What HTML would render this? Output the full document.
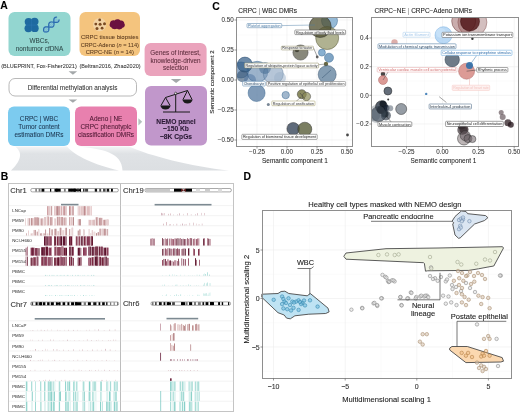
<!DOCTYPE html>
<html><head><meta charset="utf-8"><style>
html,body{margin:0;padding:0;background:#fff;width:520px;height:412px;overflow:hidden}
svg{display:block;font-family:'Liberation Sans', Arial, Helvetica, sans-serif}
</style></head><body>
<svg width="520" height="412" viewBox="0 0 520 412">
<text x="0.3" y="9.1" font-size="10.4" fill="#000" stroke="#000" stroke-width="0.1" text-anchor="start" font-weight="bold" >A</text>
<defs><linearGradient id="rg" x1="0" y1="146.5" x2="0" y2="170.6" gradientUnits="userSpaceOnUse"><stop offset="0" stop-color="#f3f4f5"/><stop offset="0.3" stop-color="#dfe2e5"/><stop offset="1" stop-color="#dcdfe2"/></linearGradient></defs>
<path d="M15,146.5 C21,151 24,158 11,170.6 L119,170.6 C95,165 75,156 67,146.5 Z" fill="url(#rg)"/>
<path d="M78,146.5 C102,149 122,152 122.5,170.6 L229,170.6 C190,166 150,156 129,146.5 Z" fill="url(#rg)"/>
<rect x="8.5" y="12" width="62" height="44" rx="6" fill="#93d6d0"/>
<rect x="79.5" y="12" width="60.5" height="44" rx="6" fill="#f4c47e"/>
<rect x="144.6" y="43" width="62" height="33" rx="6" fill="#eaa3bc"/>
<rect x="9" y="78.5" width="127.5" height="17.5" rx="6" fill="#fff" stroke="#a2a2a2" stroke-width="0.75"/>
<rect x="8" y="106.5" width="62" height="39.5" rx="6" fill="#7ccbef"/>
<rect x="75" y="106.5" width="62" height="39.5" rx="6" fill="#e880ae"/>
<rect x="145" y="86" width="62" height="59.5" rx="6" fill="#c197cb"/>
<path d="M68.6,71.2 L77.2,71.2 L72.9,74.8 Z" fill="#a4a8aa"/>
<path d="M68.6,99.4 L77.2,99.4 L72.9,102.8 Z" fill="#a4a8aa"/>
<path d="M170.8,79.1 L181.4,79.1 L176.1,83 Z" fill="#a4a8aa"/>
<path d="M138.4,118.2 L142.2,121.8 L138.4,125.4 Z" fill="#b4c2be"/>
<g fill="#1f6aa0"><circle cx="28.6" cy="21.8" r="3.9"/><circle cx="34.6" cy="21.6" r="3.9"/><circle cx="28.4" cy="28.3" r="3.9"/><circle cx="34.8" cy="28.2" r="3.9"/><circle cx="31.6" cy="25" r="3.6"/></g>
<g fill="none" stroke="#3d82c4" stroke-width="0.45" opacity="0.6"><path d="M31.6,19 L31.6,31 M25.5,25.1 L37.5,25.1"/></g>
<g stroke="#6fa6da" stroke-width="0.7"><line x1="46.32" y1="31.99" x2="43.65" y2="29.15"/><line x1="47.80" y1="31.58" x2="44.14" y2="27.70"/><line x1="48.63" y1="30.49" x2="45.29" y2="26.94"/><line x1="48.86" y1="28.76" x2="47.03" y2="26.81"/><line x1="48.73" y1="24.67" x2="51.10" y2="27.19"/><line x1="49.12" y1="23.11" x2="52.68" y2="26.89"/><line x1="50.14" y1="22.22" x2="53.63" y2="25.93"/><line x1="51.78" y1="21.98" x2="53.96" y2="24.30"/><line x1="55.86" y1="22.37" x2="53.83" y2="20.21"/><line x1="57.55" y1="22.18" x2="54.11" y2="18.53"/><line x1="58.62" y1="21.35" x2="55.01" y2="17.51"/></g>
<g fill="none" stroke="#2c6cb0" stroke-linecap="round"><polyline points="44.37,31.89 44.94,31.95 45.50,31.99 46.03,32.00 46.53,31.97 46.98,31.90 47.39,31.78 47.75,31.61 48.06,31.39 48.31,31.10 48.51,30.76 48.66,30.37 48.77,29.93 48.83,29.44 48.86,28.91 48.86,28.36 48.83,27.78 48.80,27.19 48.76,26.60 48.73,26.01 48.71,25.44 48.72,24.90 48.76,24.38 48.83,23.91 48.95,23.48 49.12,23.11 49.33,22.78 49.60,22.52 49.93,22.31 50.30,22.16 50.73,22.05 51.20,22.00 51.70,21.98 52.25,22.00 52.81,22.05 53.39,22.11 53.98,22.19 54.57,22.26 55.15,22.32 55.70,22.36 56.24,22.37 56.73,22.35 57.19,22.28 57.60,22.16 57.96,21.99 58.27,21.76 58.53,21.48 58.73,21.15 58.88,20.75 58.99,20.31 59.05,19.83" stroke-width="1.25"/><polyline points="43.63,31.11 43.61,30.53 43.60,29.97 43.62,29.44 43.68,28.95 43.78,28.50 43.92,28.10 44.11,27.75 44.36,27.45 44.66,27.22 45.01,27.04 45.41,26.91 45.86,26.83 46.34,26.80 46.87,26.81 47.42,26.84 48.00,26.90 48.59,26.97 49.17,27.04 49.76,27.11 50.33,27.16 50.87,27.18 51.39,27.18 51.86,27.13 52.30,27.04 52.68,26.89 53.02,26.70 53.30,26.44 53.53,26.13 53.70,25.76 53.83,25.35 53.91,24.88 53.96,24.38 53.97,23.84 53.96,23.27 53.93,22.69 53.89,22.09 53.86,21.50 53.83,20.92 53.82,20.36 53.84,19.83 53.90,19.33 53.99,18.88 54.13,18.48 54.33,18.13 54.57,17.84 54.87,17.60 55.21,17.41 55.61,17.29 56.06,17.21 56.55,17.17" stroke-width="1.25"/></g>
<circle cx="99.6" cy="24.7" r="6.6" fill="#f2d3a5"/>
<g fill="#7a4a22"><circle cx="99.7" cy="19.9" r="1.4"/><circle cx="95.8" cy="24.1" r="1.4"/><circle cx="100.1" cy="24.2" r="1.5"/><circle cx="104.5" cy="23.8" r="1.5"/><circle cx="97" cy="28.5" r="1.5"/><circle cx="102.1" cy="28.2" r="1.4"/></g>
<path d="M110,23.3 C110,21 112.5,19.8 114.5,20.4 C116,19 119,19 120.5,20.5 C122.5,20 124.5,21.6 124.3,23.5 C125.5,25 124.6,27.5 122.5,27.8 C121.5,29.6 118.5,29.8 117,28.8 C115,29.8 112,29.2 111.5,27.6 C109.5,27 109.2,24.6 110,23.3 Z" fill="#6a1040"/>
<text x="39.5" y="43" font-size="6.45" fill="#2f4b4b" stroke="#2f4b4b" stroke-width="0.06" text-anchor="middle" font-weight="normal" >WBCs,</text>
<text x="39.5" y="51.2" font-size="6.45" fill="#2f4b4b" stroke="#2f4b4b" stroke-width="0.06" text-anchor="middle" font-weight="normal" >nontumor cfDNA</text>
<text x="109.8" y="39.2" font-size="6.25" fill="#5b3a1e" stroke="#5b3a1e" stroke-width="0.06" text-anchor="middle" font-weight="normal" textLength="57.6" lengthAdjust="spacingAndGlyphs">CRPC tissue biopsies</text>
<text x="109.8" y="46.8" font-size="6.25" fill="#5b3a1e" stroke="#5b3a1e" stroke-width="0.06" text-anchor="middle" font-weight="normal" textLength="58.3" lengthAdjust="spacingAndGlyphs">CRPC-Adeno (<tspan font-style="italic">n</tspan> = 114)</text>
<text x="109.8" y="54.4" font-size="6.25" fill="#5b3a1e" stroke="#5b3a1e" stroke-width="0.06" text-anchor="middle" font-weight="normal" textLength="48.3" lengthAdjust="spacingAndGlyphs">CRPC-NE (<tspan font-style="italic">n</tspan> = 14)</text>
<text x="39" y="67.8" font-size="5.5" fill="#333" stroke="#333" stroke-width="0.06" text-anchor="middle" font-weight="normal" >(BLUEPRINT, Fox-Fisher2021)</text>
<text x="110" y="67.8" font-size="5.5" fill="#333" stroke="#333" stroke-width="0.06" text-anchor="middle" font-weight="normal" >(Beltran2016, Zhao2020)</text>
<text x="175.6" y="55" font-size="6.4" fill="#5a2a3a" stroke="#5a2a3a" stroke-width="0.06" text-anchor="middle" font-weight="normal" >Genes of interest,</text>
<text x="175.6" y="62.6" font-size="6.4" fill="#5a2a3a" stroke="#5a2a3a" stroke-width="0.06" text-anchor="middle" font-weight="normal" >knowledge-driven</text>
<text x="175.6" y="70.2" font-size="6.4" fill="#5a2a3a" stroke="#5a2a3a" stroke-width="0.06" text-anchor="middle" font-weight="normal" >selection</text>
<text x="72.5" y="89.8" font-size="6.4" fill="#333" stroke="#333" stroke-width="0.06" text-anchor="middle" font-weight="normal" >Differential methylation analysis</text>
<text x="39" y="121.4" font-size="6.45" fill="#1c3550" stroke="#1c3550" stroke-width="0.06" text-anchor="middle" font-weight="normal" >CRPC | WBC</text>
<text x="39" y="129.1" font-size="6.45" fill="#1c3550" stroke="#1c3550" stroke-width="0.06" text-anchor="middle" font-weight="normal" >Tumor content</text>
<text x="39" y="136.8" font-size="6.45" fill="#1c3550" stroke="#1c3550" stroke-width="0.06" text-anchor="middle" font-weight="normal" >estimation DMRs</text>
<text x="106" y="121.4" font-size="6.45" fill="#4a1530" stroke="#4a1530" stroke-width="0.06" text-anchor="middle" font-weight="normal" >Adeno | NE</text>
<text x="106" y="129.1" font-size="6.45" fill="#4a1530" stroke="#4a1530" stroke-width="0.06" text-anchor="middle" font-weight="normal" >CRPC phenotypic</text>
<text x="106" y="136.8" font-size="6.45" fill="#4a1530" stroke="#4a1530" stroke-width="0.06" text-anchor="middle" font-weight="normal" >classification DMRs</text>
<text x="176" y="123.8" font-size="6.7" fill="#2a1a35" stroke="#2a1a35" stroke-width="0.1" text-anchor="middle" font-weight="bold" >NEMO panel</text>
<text x="176" y="131.4" font-size="6.7" fill="#2a1a35" stroke="#2a1a35" stroke-width="0.1" text-anchor="middle" font-weight="bold" >~150 Kb</text>
<text x="176" y="139" font-size="6.7" fill="#2a1a35" stroke="#2a1a35" stroke-width="0.1" text-anchor="middle" font-weight="bold" >~8K CpGs</text>
<g stroke="#1a1a1a" stroke-width="1" fill="none"><path d="M163,112 L190,112"/><path d="M175.7,93 L175.7,112"/><path d="M165.5,97.5 L187.5,90.5"/><path d="M165.5,97.5 L161,105.5 M165.5,97.5 L170,105.5"/><path d="M187.5,90.5 L183,99.5 M187.5,90.5 L192,99.5"/></g>
<path d="M160.5,105.5 L170.5,105.5 A5,4 0 0 1 160.5,105.5 Z" fill="#1a1a1a"/>
<path d="M182.5,99.5 L192.5,99.5 A5,4 0 0 1 182.5,99.5 Z" fill="#1a1a1a"/>
<circle cx="175.7" cy="93.3" r="1.1" fill="#fff" stroke="#1a1a1a" stroke-width="0.6"/>
<rect x="8.5" y="183.5" width="225" height="228" fill="none" stroke="#c4c4c4" stroke-width="1"/>
<line x1="120.5" y1="184" x2="120.5" y2="412" stroke="#bdbdbd" stroke-width="1"/>
<line x1="9" y1="205.60" x2="120.4" y2="205.60" stroke="#e6e6e6" stroke-width="0.5"/>
<line x1="121.6" y1="205.60" x2="233.2" y2="205.60" stroke="#e6e6e6" stroke-width="0.5"/>
<line x1="9" y1="215.66" x2="120.4" y2="215.66" stroke="#e6e6e6" stroke-width="0.5"/>
<line x1="121.6" y1="215.66" x2="233.2" y2="215.66" stroke="#e6e6e6" stroke-width="0.5"/>
<line x1="9" y1="225.72" x2="120.4" y2="225.72" stroke="#e6e6e6" stroke-width="0.5"/>
<line x1="121.6" y1="225.72" x2="233.2" y2="225.72" stroke="#e6e6e6" stroke-width="0.5"/>
<line x1="9" y1="235.78" x2="120.4" y2="235.78" stroke="#e6e6e6" stroke-width="0.5"/>
<line x1="121.6" y1="235.78" x2="233.2" y2="235.78" stroke="#e6e6e6" stroke-width="0.5"/>
<line x1="9" y1="245.84" x2="120.4" y2="245.84" stroke="#e6e6e6" stroke-width="0.5"/>
<line x1="121.6" y1="245.84" x2="233.2" y2="245.84" stroke="#e6e6e6" stroke-width="0.5"/>
<line x1="9" y1="255.90" x2="120.4" y2="255.90" stroke="#e6e6e6" stroke-width="0.5"/>
<line x1="121.6" y1="255.90" x2="233.2" y2="255.90" stroke="#e6e6e6" stroke-width="0.5"/>
<line x1="9" y1="265.96" x2="120.4" y2="265.96" stroke="#e6e6e6" stroke-width="0.5"/>
<line x1="121.6" y1="265.96" x2="233.2" y2="265.96" stroke="#e6e6e6" stroke-width="0.5"/>
<line x1="9" y1="276.02" x2="120.4" y2="276.02" stroke="#e6e6e6" stroke-width="0.5"/>
<line x1="121.6" y1="276.02" x2="233.2" y2="276.02" stroke="#e6e6e6" stroke-width="0.5"/>
<line x1="9" y1="286.08" x2="120.4" y2="286.08" stroke="#e6e6e6" stroke-width="0.5"/>
<line x1="121.6" y1="286.08" x2="233.2" y2="286.08" stroke="#e6e6e6" stroke-width="0.5"/>
<line x1="9" y1="320.80" x2="120.4" y2="320.80" stroke="#e6e6e6" stroke-width="0.5"/>
<line x1="121.6" y1="320.80" x2="233.2" y2="320.80" stroke="#e6e6e6" stroke-width="0.5"/>
<line x1="9" y1="330.86" x2="120.4" y2="330.86" stroke="#e6e6e6" stroke-width="0.5"/>
<line x1="121.6" y1="330.86" x2="233.2" y2="330.86" stroke="#e6e6e6" stroke-width="0.5"/>
<line x1="9" y1="340.92" x2="120.4" y2="340.92" stroke="#e6e6e6" stroke-width="0.5"/>
<line x1="121.6" y1="340.92" x2="233.2" y2="340.92" stroke="#e6e6e6" stroke-width="0.5"/>
<line x1="9" y1="350.98" x2="120.4" y2="350.98" stroke="#e6e6e6" stroke-width="0.5"/>
<line x1="121.6" y1="350.98" x2="233.2" y2="350.98" stroke="#e6e6e6" stroke-width="0.5"/>
<line x1="9" y1="361.04" x2="120.4" y2="361.04" stroke="#e6e6e6" stroke-width="0.5"/>
<line x1="121.6" y1="361.04" x2="233.2" y2="361.04" stroke="#e6e6e6" stroke-width="0.5"/>
<line x1="9" y1="371.10" x2="120.4" y2="371.10" stroke="#e6e6e6" stroke-width="0.5"/>
<line x1="121.6" y1="371.10" x2="233.2" y2="371.10" stroke="#e6e6e6" stroke-width="0.5"/>
<line x1="9" y1="381.16" x2="120.4" y2="381.16" stroke="#e6e6e6" stroke-width="0.5"/>
<line x1="121.6" y1="381.16" x2="233.2" y2="381.16" stroke="#e6e6e6" stroke-width="0.5"/>
<line x1="9" y1="391.22" x2="120.4" y2="391.22" stroke="#e6e6e6" stroke-width="0.5"/>
<line x1="121.6" y1="391.22" x2="233.2" y2="391.22" stroke="#e6e6e6" stroke-width="0.5"/>
<line x1="9" y1="401.28" x2="120.4" y2="401.28" stroke="#e6e6e6" stroke-width="0.5"/>
<line x1="121.6" y1="401.28" x2="233.2" y2="401.28" stroke="#e6e6e6" stroke-width="0.5"/>
<text x="10.2" y="193.2" font-size="7.6" fill="#333" stroke="#333" stroke-width="0.1" text-anchor="start" font-weight="normal" >Chr1</text>
<text x="123" y="193.2" font-size="7.6" fill="#333" stroke="#333" stroke-width="0.1" text-anchor="start" font-weight="normal" >Chr19</text>
<text x="10.6" y="306.6" font-size="7.6" fill="#333" stroke="#333" stroke-width="0.1" text-anchor="start" font-weight="normal" >Chr7</text>
<text x="122.9" y="306.4" font-size="7.6" fill="#333" stroke="#333" stroke-width="0.1" text-anchor="start" font-weight="normal" >Chr6</text>
<rect x="30.8" y="188.5" width="87.5" height="3.4" rx="1.4" fill="#fff" stroke="#555" stroke-width="0.5"/>
<rect x="35.32" y="188.75" width="1.5600000000000023" height="2.9" fill="#777"/>
<rect x="38.63" y="188.75" width="1.8399999999999963" height="2.9" fill="#777"/>
<rect x="41.51" y="188.75" width="2.8400000000000034" height="2.9" fill="#000"/>
<rect x="50.0" y="188.75" width="1.2199999999999989" height="2.9" fill="#000"/>
<rect x="56.07" y="188.75" width="1.4699999999999989" height="2.9" fill="#000"/>
<rect x="63.95" y="188.75" width="1.759999999999991" height="2.9" fill="#777"/>
<rect x="68.23" y="188.75" width="3.039999999999992" height="2.9" fill="#000"/>
<rect x="73.75" y="188.75" width="1.2199999999999989" height="2.9" fill="#000"/>
<rect x="77.34" y="188.75" width="1.269999999999996" height="2.9" fill="#000"/>
<rect x="85.08" y="188.75" width="3.0" height="2.9" fill="#444"/>
<rect x="94.77" y="188.75" width="2.299999999999997" height="2.9" fill="#111"/>
<rect x="99.26" y="188.75" width="1.8900000000000006" height="2.9" fill="#444"/>
<rect x="103.03" y="188.75" width="2.539999999999992" height="2.9" fill="#444"/>
<rect x="106.71" y="188.75" width="2.460000000000008" height="2.9" fill="#111"/>
<rect x="111.01" y="188.75" width="1.8599999999999994" height="2.9" fill="#000"/>
<rect x="54.5" y="188.75" width="6.200000000000003" height="2.9" fill="#000"/>
<rect x="71" y="188.75" width="4" height="2.9" fill="#000"/>
<rect x="83" y="188.75" width="1.5" height="2.9" fill="#333"/>
<path d="M75,188.5 L78.0,189.79999999999998 L81,188.5 L81,191.89999999999998 L78.0,190.6 L75,191.89999999999998 Z" fill="#000"/>
<rect x="145" y="188.5" width="86.30000000000001" height="3.4" rx="1.4" fill="#fff" stroke="#555" stroke-width="0.5"/>
<rect x="146" y="188.75" width="24" height="2.9" fill="#c8c8c8"/>
<rect x="174" y="188.75" width="7" height="2.9" fill="#000"/>
<rect x="186" y="188.75" width="6" height="2.9" fill="#000"/>
<rect x="196" y="188.75" width="4" height="2.9" fill="#ddd"/>
<rect x="205" y="188.75" width="5" height="2.9" fill="#ccc"/>
<rect x="218" y="188.75" width="4" height="2.9" fill="#ddd"/>
<path d="M181,188.5 L183.5,189.79999999999998 L186,188.5 L186,191.89999999999998 L183.5,190.6 L181,191.89999999999998 Z" fill="#5a1a1a"/>
<rect x="30.6" y="302.0" width="88.0" height="3.4" rx="1.4" fill="#fff" stroke="#555" stroke-width="0.5"/>
<rect x="31.6" y="302.25" width="1.519999999999996" height="2.9" fill="#444"/>
<rect x="35.59" y="302.25" width="2.039999999999999" height="2.9" fill="#000"/>
<rect x="38.65" y="302.25" width="2.8500000000000014" height="2.9" fill="#111"/>
<rect x="42.8" y="302.25" width="2.5800000000000054" height="2.9" fill="#000"/>
<rect x="47.14" y="302.25" width="2.4099999999999966" height="2.9" fill="#000"/>
<rect x="50.79" y="302.25" width="3.039999999999999" height="2.9" fill="#000"/>
<rect x="55.9" y="302.25" width="1.1400000000000006" height="2.9" fill="#000"/>
<rect x="58.11" y="302.25" width="2.719999999999999" height="2.9" fill="#444"/>
<rect x="62.58" y="302.25" width="2.5900000000000034" height="2.9" fill="#000"/>
<rect x="67.43" y="302.25" width="1.9399999999999977" height="2.9" fill="#000"/>
<rect x="71.08" y="302.25" width="3.0600000000000023" height="2.9" fill="#000"/>
<rect x="75.19" y="302.25" width="2.0900000000000034" height="2.9" fill="#000"/>
<rect x="78.98" y="302.25" width="2.3799999999999955" height="2.9" fill="#000"/>
<rect x="83.69" y="302.25" width="2.260000000000005" height="2.9" fill="#777"/>
<rect x="87.89" y="302.25" width="2.989999999999995" height="2.9" fill="#000"/>
<rect x="93.25" y="302.25" width="3.180000000000007" height="2.9" fill="#111"/>
<rect x="98.55" y="302.25" width="1.710000000000008" height="2.9" fill="#000"/>
<rect x="102.17" y="302.25" width="2.5799999999999983" height="2.9" fill="#000"/>
<rect x="106.17" y="302.25" width="1.2800000000000011" height="2.9" fill="#000"/>
<rect x="110.03" y="302.25" width="1.1899999999999977" height="2.9" fill="#777"/>
<rect x="113.66" y="302.25" width="1.0400000000000063" height="2.9" fill="#777"/>
<rect x="117.1" y="302.25" width="0.5" height="2.9" fill="#000"/>
<rect x="75" y="302.25" width="4" height="2.9" fill="#000"/>
<rect x="40" y="302.25" width="2" height="2.9" fill="#000"/>
<path d="M57,302.0 L58.5,303.3 L60,302.0 L60,305.4 L58.5,304.09999999999997 L57,305.4 Z" fill="#000"/>
<rect x="151" y="301.90000000000003" width="79.5" height="3.4" rx="1.4" fill="#fff" stroke="#555" stroke-width="0.5"/>
<rect x="152" y="302.15000000000003" width="1.5200000000000102" height="2.9" fill="#777"/>
<rect x="155.29" y="302.15000000000003" width="1.1899999999999977" height="2.9" fill="#000"/>
<rect x="158.95" y="302.15000000000003" width="2.7600000000000193" height="2.9" fill="#111"/>
<rect x="163.55" y="302.15000000000003" width="1.789999999999992" height="2.9" fill="#000"/>
<rect x="166.76" y="302.15000000000003" width="3.0700000000000216" height="2.9" fill="#000"/>
<rect x="172.12" y="302.15000000000003" width="2.759999999999991" height="2.9" fill="#444"/>
<rect x="181.61" y="302.15000000000003" width="1.8199999999999932" height="2.9" fill="#444"/>
<rect x="185.51" y="302.15000000000003" width="2.1100000000000136" height="2.9" fill="#777"/>
<rect x="189.07" y="302.15000000000003" width="3.0800000000000125" height="2.9" fill="#000"/>
<rect x="194.49" y="302.15000000000003" width="1.0199999999999818" height="2.9" fill="#000"/>
<rect x="197.92" y="302.15000000000003" width="2.8600000000000136" height="2.9" fill="#777"/>
<rect x="202.46" y="302.15000000000003" width="1.6399999999999864" height="2.9" fill="#111"/>
<rect x="205.58" y="302.15000000000003" width="2.789999999999992" height="2.9" fill="#000"/>
<rect x="210.11" y="302.15000000000003" width="3.1999999999999886" height="2.9" fill="#000"/>
<rect x="218.13" y="302.15000000000003" width="1.9099999999999966" height="2.9" fill="#000"/>
<rect x="221.74" y="302.15000000000003" width="1.4099999999999966" height="2.9" fill="#000"/>
<rect x="228.05" y="302.15000000000003" width="1.1299999999999955" height="2.9" fill="#000"/>
<rect x="181" y="302.15000000000003" width="4" height="2.9" fill="#000"/>
<rect x="210" y="302.15000000000003" width="4" height="2.9" fill="#000"/>
<path d="M168,301.90000000000003 L169.5,303.20000000000005 L171,301.90000000000003 L171,305.3 L169.5,304.0 L168,305.3 Z" fill="#000"/>
<rect x="61" y="203.79999999999998" width="17.5" height="1.6" fill="#7d8a92"/>
<rect x="154.6" y="203.89999999999998" width="56.900000000000006" height="1.6" fill="#7d8a92"/>
<rect x="34.7" y="318.0" width="70.3" height="1.6" fill="#7d8a92"/>
<rect x="166.5" y="317.8" width="31.69999999999999" height="1.6" fill="#7d8a92"/>
<text x="12.2" y="212.2" font-size="4.4" fill="#262626" stroke="#262626" stroke-width="0" text-anchor="start" font-weight="normal" >LNCap</text>
<text x="12.2" y="222.26" font-size="4.4" fill="#262626" stroke="#262626" stroke-width="0" text-anchor="start" font-weight="normal" >PM59</text>
<text x="12.2" y="232.32" font-size="4.4" fill="#262626" stroke="#262626" stroke-width="0" text-anchor="start" font-weight="normal" >PM90</text>
<text x="12.2" y="242.38" font-size="4.4" fill="#262626" stroke="#262626" stroke-width="0" text-anchor="start" font-weight="normal" >NCI-H660</text>
<text x="12.2" y="252.44" font-size="4.4" fill="#262626" stroke="#262626" stroke-width="0" text-anchor="start" font-weight="normal" >PM155</text>
<text x="12.2" y="262.5" font-size="4.4" fill="#262626" stroke="#262626" stroke-width="0" text-anchor="start" font-weight="normal" >PM154</text>
<text x="12.2" y="272.56" font-size="4.4" fill="#262626" stroke="#262626" stroke-width="0" text-anchor="start" font-weight="normal" >PBMC</text>
<text x="12.2" y="282.62" font-size="4.4" fill="#262626" stroke="#262626" stroke-width="0" text-anchor="start" font-weight="normal" >PBMC</text>
<text x="12.2" y="292.68" font-size="4.4" fill="#262626" stroke="#262626" stroke-width="0" text-anchor="start" font-weight="normal" >PBMC</text>
<text x="12.2" y="327.40000000000003" font-size="4.4" fill="#262626" stroke="#262626" stroke-width="0" text-anchor="start" font-weight="normal" >LNCaP</text>
<text x="12.2" y="337.46000000000004" font-size="4.4" fill="#262626" stroke="#262626" stroke-width="0" text-anchor="start" font-weight="normal" >PM59</text>
<text x="12.2" y="347.52000000000004" font-size="4.4" fill="#262626" stroke="#262626" stroke-width="0" text-anchor="start" font-weight="normal" >PM90</text>
<text x="12.2" y="357.58000000000004" font-size="4.4" fill="#262626" stroke="#262626" stroke-width="0" text-anchor="start" font-weight="normal" >NCI-H660</text>
<text x="12.2" y="367.64000000000004" font-size="4.4" fill="#262626" stroke="#262626" stroke-width="0" text-anchor="start" font-weight="normal" >PM155</text>
<text x="12.2" y="377.70000000000005" font-size="4.4" fill="#262626" stroke="#262626" stroke-width="0" text-anchor="start" font-weight="normal" >PM154</text>
<text x="12.2" y="387.76000000000005" font-size="4.4" fill="#262626" stroke="#262626" stroke-width="0" text-anchor="start" font-weight="normal" >PBMC</text>
<text x="12.2" y="397.82000000000005" font-size="4.4" fill="#262626" stroke="#262626" stroke-width="0" text-anchor="start" font-weight="normal" >PBMC</text>
<text x="12.2" y="407.88000000000005" font-size="4.4" fill="#262626" stroke="#262626" stroke-width="0" text-anchor="start" font-weight="normal" >PBMC</text>
<rect x="47.00" y="206.16" width="2.63" height="9.20" fill="#cfa3a6"/>
<rect x="48.13" y="206.16" width="0.40" height="9.20" fill="#f3e3e3"/>
<rect x="48.79" y="206.16" width="0.37" height="9.20" fill="#f3e3e3"/>
<rect x="50.02" y="206.16" width="2.26" height="9.20" fill="#e0bfc0"/>
<rect x="50.10" y="206.16" width="0.50" height="9.20" fill="#ffffff"/>
<rect x="51.24" y="206.16" width="0.40" height="9.20" fill="#f3e3e3"/>
<rect x="51.18" y="206.16" width="0.46" height="9.20" fill="#a87072"/>
<rect x="54.20" y="206.16" width="1.98" height="9.20" fill="#d8b0b2"/>
<rect x="54.71" y="206.16" width="0.40" height="9.20" fill="#f3e3e3"/>
<rect x="55.02" y="206.16" width="0.41" height="9.20" fill="#ffffff"/>
<rect x="56.53" y="206.16" width="1.71" height="9.20" fill="#cfa3a6"/>
<rect x="57.83" y="206.16" width="0.46" height="9.20" fill="#9a6064"/>
<rect x="56.94" y="206.16" width="0.31" height="9.20" fill="#9a6064"/>
<rect x="56.57" y="206.16" width="0.39" height="9.20" fill="#a87072"/>
<rect x="58.77" y="206.16" width="3.62" height="9.20" fill="#d8b0b2"/>
<rect x="58.77" y="206.16" width="0.30" height="9.20" fill="#a87072"/>
<rect x="60.28" y="206.16" width="0.50" height="9.20" fill="#ffffff"/>
<rect x="60.12" y="206.16" width="0.39" height="9.20" fill="#f3e3e3"/>
<rect x="63.09" y="206.16" width="2.17" height="9.20" fill="#cfa3a6"/>
<rect x="64.80" y="206.16" width="0.44" height="9.20" fill="#a87072"/>
<rect x="65.67" y="206.16" width="1.33" height="9.20" fill="#cfa3a6"/>
<rect x="65.84" y="206.16" width="0.39" height="9.20" fill="#ffffff"/>
<rect x="66.14" y="206.16" width="0.50" height="9.20" fill="#f3e3e3"/>
<rect x="69.00" y="206.16" width="2.46" height="9.20" fill="#d8b0b2"/>
<rect x="69.56" y="206.16" width="0.49" height="9.20" fill="#9a6064"/>
<rect x="72.26" y="206.16" width="1.54" height="9.20" fill="#e0bfc0"/>
<rect x="72.92" y="206.16" width="0.26" height="9.20" fill="#f3e3e3"/>
<rect x="72.50" y="206.16" width="0.31" height="9.20" fill="#9a6064"/>
<rect x="73.21" y="206.16" width="0.35" height="9.20" fill="#a87072"/>
<rect x="77.70" y="206.16" width="2.96" height="9.20" fill="#e0bfc0"/>
<rect x="78.65" y="206.16" width="0.36" height="9.20" fill="#ffffff"/>
<rect x="79.83" y="206.16" width="0.28" height="9.20" fill="#ffffff"/>
<rect x="81.09" y="206.16" width="1.89" height="9.20" fill="#e0bfc0"/>
<rect x="82.17" y="206.16" width="0.29" height="9.20" fill="#f3e3e3"/>
<rect x="83.63" y="206.16" width="2.47" height="9.20" fill="#d8b0b2"/>
<rect x="83.73" y="206.16" width="0.28" height="9.20" fill="#9a6064"/>
<rect x="84.13" y="206.16" width="0.43" height="9.20" fill="#9a6064"/>
<rect x="86.64" y="206.16" width="3.76" height="9.20" fill="#e0bfc0"/>
<rect x="89.77" y="206.16" width="0.49" height="9.20" fill="#f3e3e3"/>
<rect x="90.86" y="206.16" width="1.14" height="9.20" fill="#e0bfc0"/>
<rect x="91.07" y="206.16" width="0.48" height="9.20" fill="#f3e3e3"/>
<rect x="25.00" y="218.39" width="0.60" height="7.03" fill="#dab6b7"/>
<rect x="25.01" y="218.39" width="0.32" height="7.03" fill="#f3e3e3"/>
<rect x="27.70" y="218.24" width="1.85" height="7.18" fill="#d0a8aa"/>
<rect x="28.76" y="218.24" width="0.38" height="7.18" fill="#f3e3e3"/>
<rect x="28.55" y="218.24" width="0.48" height="7.18" fill="#ffffff"/>
<rect x="29.02" y="218.24" width="0.43" height="7.18" fill="#a87072"/>
<rect x="30.60" y="218.13" width="3.09" height="7.29" fill="#e2c4c5"/>
<rect x="31.46" y="218.13" width="0.50" height="7.29" fill="#a87072"/>
<rect x="31.82" y="218.13" width="0.34" height="7.29" fill="#a87072"/>
<rect x="34.45" y="217.31" width="3.34" height="8.11" fill="#d0a8aa"/>
<rect x="34.70" y="217.31" width="0.37" height="8.11" fill="#a87072"/>
<rect x="37.01" y="217.31" width="0.35" height="8.11" fill="#a87072"/>
<rect x="38.53" y="217.60" width="0.67" height="7.82" fill="#d0a8aa"/>
<rect x="38.69" y="217.60" width="0.40" height="7.82" fill="#a87072"/>
<rect x="38.55" y="217.60" width="0.28" height="7.82" fill="#9a6064"/>
<rect x="40.20" y="218.47" width="3.32" height="6.95" fill="#e2c4c5"/>
<rect x="41.90" y="218.47" width="0.36" height="6.95" fill="#a87072"/>
<rect x="41.71" y="218.47" width="0.38" height="6.95" fill="#9a6064"/>
<rect x="41.96" y="218.47" width="0.37" height="6.95" fill="#f3e3e3"/>
<rect x="44.30" y="217.03" width="1.78" height="8.39" fill="#e2c4c5"/>
<rect x="44.65" y="217.03" width="0.25" height="8.39" fill="#9a6064"/>
<rect x="44.50" y="217.03" width="0.40" height="8.39" fill="#f3e3e3"/>
<rect x="46.77" y="216.48" width="2.36" height="8.94" fill="#d0a8aa"/>
<rect x="47.41" y="216.48" width="0.42" height="8.94" fill="#f3e3e3"/>
<rect x="49.76" y="217.12" width="2.94" height="8.30" fill="#dab6b7"/>
<rect x="50.74" y="217.12" width="0.40" height="8.30" fill="#9a6064"/>
<rect x="54.20" y="218.61" width="1.84" height="6.81" fill="#dab6b7"/>
<rect x="54.29" y="218.61" width="0.50" height="6.81" fill="#f3e3e3"/>
<rect x="54.36" y="218.61" width="0.37" height="6.81" fill="#f3e3e3"/>
<rect x="55.39" y="218.61" width="0.35" height="6.81" fill="#ffffff"/>
<rect x="56.69" y="216.80" width="3.29" height="8.62" fill="#e2c4c5"/>
<rect x="57.61" y="216.80" width="0.46" height="8.62" fill="#9a6064"/>
<rect x="59.21" y="216.80" width="0.26" height="8.62" fill="#9a6064"/>
<rect x="60.59" y="216.99" width="2.27" height="8.43" fill="#dab6b7"/>
<rect x="60.84" y="216.99" width="0.36" height="8.43" fill="#a87072"/>
<rect x="62.03" y="216.99" width="0.32" height="8.43" fill="#f3e3e3"/>
<rect x="62.08" y="216.99" width="0.50" height="8.43" fill="#a87072"/>
<rect x="63.41" y="217.49" width="3.07" height="7.93" fill="#d0a8aa"/>
<rect x="65.24" y="217.49" width="0.30" height="7.93" fill="#ffffff"/>
<rect x="69.00" y="217.12" width="3.29" height="8.30" fill="#e2c4c5"/>
<rect x="69.10" y="217.12" width="0.31" height="8.30" fill="#9a6064"/>
<rect x="70.56" y="217.12" width="0.49" height="8.30" fill="#f3e3e3"/>
<rect x="70.14" y="217.12" width="0.45" height="8.30" fill="#f3e3e3"/>
<rect x="72.67" y="217.24" width="1.13" height="8.18" fill="#dab6b7"/>
<rect x="73.00" y="217.24" width="0.41" height="8.18" fill="#a87072"/>
<rect x="72.95" y="217.24" width="0.39" height="8.18" fill="#9a6064"/>
<rect x="77.70" y="219.15" width="3.13" height="6.27" fill="#e2c4c5"/>
<rect x="80.22" y="219.15" width="0.28" height="6.27" fill="#f3e3e3"/>
<rect x="80.16" y="219.15" width="0.50" height="6.27" fill="#9a6064"/>
<rect x="79.16" y="219.15" width="0.45" height="6.27" fill="#9a6064"/>
<rect x="88.30" y="219.84" width="3.30" height="5.58" fill="#e2c4c5"/>
<rect x="88.41" y="219.84" width="0.34" height="5.58" fill="#ffffff"/>
<rect x="92.29" y="219.80" width="2.72" height="5.62" fill="#dab6b7"/>
<rect x="94.15" y="219.80" width="0.29" height="5.62" fill="#9a6064"/>
<rect x="93.88" y="219.80" width="0.48" height="5.62" fill="#ffffff"/>
<rect x="95.43" y="217.24" width="2.79" height="8.18" fill="#e2c4c5"/>
<rect x="96.48" y="217.24" width="0.47" height="8.18" fill="#a87072"/>
<rect x="97.24" y="217.24" width="0.36" height="8.18" fill="#9a6064"/>
<rect x="97.41" y="217.24" width="0.39" height="8.18" fill="#f3e3e3"/>
<rect x="98.80" y="217.84" width="3.61" height="7.58" fill="#d0a8aa"/>
<rect x="100.03" y="217.84" width="0.46" height="7.58" fill="#f3e3e3"/>
<rect x="99.78" y="217.84" width="0.29" height="7.58" fill="#9a6064"/>
<rect x="100.64" y="217.84" width="0.30" height="7.58" fill="#a87072"/>
<rect x="102.99" y="219.80" width="3.01" height="5.62" fill="#dab6b7"/>
<rect x="105.39" y="219.80" width="0.39" height="5.62" fill="#a87072"/>
<rect x="104.27" y="219.80" width="0.42" height="5.62" fill="#a87072"/>
<rect x="105.42" y="219.80" width="0.36" height="5.62" fill="#ffffff"/>
<rect x="106.47" y="219.43" width="2.03" height="5.99" fill="#d0a8aa"/>
<rect x="107.33" y="219.43" width="0.28" height="5.99" fill="#ffffff"/>
<rect x="107.48" y="219.43" width="0.48" height="5.99" fill="#f3e3e3"/>
<rect x="26.00" y="233.32" width="0.50" height="2.16" fill="#ddbfc0"/>
<rect x="26.00" y="233.32" width="0.32" height="2.16" fill="#9a6064"/>
<rect x="28.00" y="230.59" width="1.00" height="4.89" fill="#e4c9ca"/>
<rect x="28.51" y="230.59" width="0.41" height="4.89" fill="#f3e3e3"/>
<rect x="30.60" y="233.39" width="2.29" height="2.09" fill="#e4c9ca"/>
<rect x="32.16" y="233.39" width="0.40" height="2.09" fill="#f3e3e3"/>
<rect x="32.24" y="233.39" width="0.38" height="2.09" fill="#f3e3e3"/>
<rect x="33.48" y="229.94" width="2.25" height="5.54" fill="#ddbfc0"/>
<rect x="35.17" y="229.94" width="0.41" height="5.54" fill="#9a6064"/>
<rect x="36.49" y="231.68" width="1.34" height="3.80" fill="#ddbfc0"/>
<rect x="37.21" y="231.68" width="0.30" height="3.80" fill="#a87072"/>
<rect x="38.23" y="229.26" width="0.97" height="6.22" fill="#d3aeb0"/>
<rect x="38.29" y="229.26" width="0.46" height="6.22" fill="#ffffff"/>
<rect x="38.54" y="229.26" width="0.43" height="6.22" fill="#f3e3e3"/>
<rect x="40.20" y="233.42" width="1.96" height="2.06" fill="#ddbfc0"/>
<rect x="41.27" y="233.42" width="0.48" height="2.06" fill="#9a6064"/>
<rect x="40.38" y="233.42" width="0.38" height="2.06" fill="#9a6064"/>
<rect x="40.99" y="233.42" width="0.42" height="2.06" fill="#f3e3e3"/>
<rect x="42.88" y="233.38" width="1.62" height="2.10" fill="#e4c9ca"/>
<rect x="43.50" y="233.38" width="0.39" height="2.10" fill="#f3e3e3"/>
<rect x="43.11" y="233.38" width="0.28" height="2.10" fill="#f3e3e3"/>
<rect x="43.90" y="233.38" width="0.50" height="2.10" fill="#a87072"/>
<rect x="45.11" y="229.53" width="1.03" height="5.95" fill="#ddbfc0"/>
<rect x="45.31" y="229.53" width="0.37" height="5.95" fill="#9a6064"/>
<rect x="46.68" y="233.45" width="1.82" height="2.03" fill="#e4c9ca"/>
<rect x="47.88" y="233.45" width="0.30" height="2.03" fill="#ffffff"/>
<rect x="49.01" y="228.12" width="1.43" height="7.36" fill="#e4c9ca"/>
<rect x="49.11" y="228.12" width="0.45" height="7.36" fill="#9a6064"/>
<rect x="51.19" y="229.39" width="1.51" height="6.09" fill="#e4c9ca"/>
<rect x="51.82" y="229.39" width="0.30" height="6.09" fill="#9a6064"/>
<rect x="52.08" y="229.39" width="0.31" height="6.09" fill="#a87072"/>
<rect x="54.20" y="228.75" width="2.12" height="6.73" fill="#d3aeb0"/>
<rect x="55.74" y="228.75" width="0.47" height="6.73" fill="#9a6064"/>
<rect x="57.02" y="231.15" width="2.10" height="4.33" fill="#e4c9ca"/>
<rect x="57.14" y="231.15" width="0.34" height="4.33" fill="#ffffff"/>
<rect x="59.51" y="227.72" width="2.31" height="7.76" fill="#e4c9ca"/>
<rect x="59.96" y="227.72" width="0.49" height="7.76" fill="#9a6064"/>
<rect x="62.33" y="230.18" width="1.92" height="5.30" fill="#e4c9ca"/>
<rect x="62.92" y="230.18" width="0.50" height="5.30" fill="#f3e3e3"/>
<rect x="64.91" y="227.78" width="2.09" height="7.70" fill="#ddbfc0"/>
<rect x="65.95" y="227.78" width="0.43" height="7.70" fill="#9a6064"/>
<rect x="69.00" y="229.06" width="1.66" height="6.42" fill="#e4c9ca"/>
<rect x="69.01" y="229.06" width="0.31" height="6.42" fill="#9a6064"/>
<rect x="70.14" y="229.06" width="0.39" height="6.42" fill="#ffffff"/>
<rect x="71.44" y="227.69" width="1.77" height="7.79" fill="#e4c9ca"/>
<rect x="72.55" y="227.69" width="0.27" height="7.79" fill="#a87072"/>
<rect x="71.97" y="227.69" width="0.48" height="7.79" fill="#ffffff"/>
<rect x="77.70" y="230.62" width="1.09" height="4.86" fill="#e4c9ca"/>
<rect x="77.74" y="230.62" width="0.49" height="4.86" fill="#ffffff"/>
<rect x="77.90" y="230.62" width="0.35" height="4.86" fill="#9a6064"/>
<rect x="77.95" y="230.62" width="0.32" height="4.86" fill="#9a6064"/>
<rect x="79.39" y="229.32" width="1.28" height="6.16" fill="#d3aeb0"/>
<rect x="79.40" y="229.32" width="0.31" height="6.16" fill="#a87072"/>
<rect x="83.00" y="229.51" width="1.49" height="5.97" fill="#ddbfc0"/>
<rect x="83.82" y="229.51" width="0.26" height="5.97" fill="#9a6064"/>
<rect x="83.08" y="229.51" width="0.48" height="5.97" fill="#ffffff"/>
<rect x="88.30" y="229.09" width="1.23" height="6.39" fill="#ddbfc0"/>
<rect x="88.38" y="229.09" width="0.45" height="6.39" fill="#ffffff"/>
<rect x="88.42" y="229.09" width="0.49" height="6.39" fill="#f3e3e3"/>
<rect x="88.80" y="229.09" width="0.28" height="6.39" fill="#ffffff"/>
<rect x="90.08" y="233.22" width="1.15" height="2.26" fill="#e4c9ca"/>
<rect x="90.17" y="233.22" width="0.36" height="2.26" fill="#ffffff"/>
<rect x="91.78" y="230.11" width="1.25" height="5.37" fill="#d3aeb0"/>
<rect x="92.44" y="230.11" width="0.38" height="5.37" fill="#f3e3e3"/>
<rect x="92.59" y="230.11" width="0.43" height="5.37" fill="#f3e3e3"/>
<rect x="93.59" y="231.72" width="1.66" height="3.76" fill="#e4c9ca"/>
<rect x="94.66" y="231.72" width="0.32" height="3.76" fill="#f3e3e3"/>
<rect x="94.39" y="231.72" width="0.44" height="3.76" fill="#f3e3e3"/>
<rect x="94.79" y="231.72" width="0.38" height="3.76" fill="#f3e3e3"/>
<rect x="96.00" y="233.17" width="0.87" height="2.31" fill="#d3aeb0"/>
<rect x="96.19" y="233.17" width="0.41" height="2.31" fill="#a87072"/>
<rect x="96.10" y="233.17" width="0.32" height="2.31" fill="#a87072"/>
<rect x="97.62" y="232.15" width="1.07" height="3.33" fill="#d3aeb0"/>
<rect x="97.95" y="232.15" width="0.30" height="3.33" fill="#9a6064"/>
<rect x="97.96" y="232.15" width="0.28" height="3.33" fill="#a87072"/>
<rect x="99.41" y="228.70" width="1.56" height="6.78" fill="#ddbfc0"/>
<rect x="99.90" y="228.70" width="0.31" height="6.78" fill="#f3e3e3"/>
<rect x="99.84" y="228.70" width="0.41" height="6.78" fill="#9a6064"/>
<rect x="101.45" y="228.68" width="2.09" height="6.80" fill="#ddbfc0"/>
<rect x="102.55" y="228.68" width="0.40" height="6.80" fill="#ffffff"/>
<rect x="102.93" y="228.68" width="0.27" height="6.80" fill="#a87072"/>
<rect x="104.08" y="228.74" width="1.77" height="6.74" fill="#d3aeb0"/>
<rect x="105.21" y="228.74" width="0.25" height="6.74" fill="#9a6064"/>
<rect x="104.38" y="228.74" width="0.42" height="6.74" fill="#a87072"/>
<rect x="106.51" y="229.04" width="1.64" height="6.44" fill="#d3aeb0"/>
<rect x="107.61" y="229.04" width="0.30" height="6.44" fill="#9a6064"/>
<rect x="106.97" y="229.04" width="0.28" height="6.44" fill="#ffffff"/>
<rect x="44.00" y="236.34" width="3.80" height="9.20" fill="#5e1530"/>
<rect x="45.80" y="236.34" width="0.50" height="9.20" fill="#f4e6ea"/>
<rect x="45.08" y="236.34" width="0.35" height="9.20" fill="#b07888"/>
<rect x="48.18" y="236.34" width="3.57" height="9.20" fill="#853652"/>
<rect x="49.41" y="236.34" width="0.30" height="9.20" fill="#c898a8"/>
<rect x="50.71" y="236.34" width="0.39" height="9.20" fill="#b07888"/>
<rect x="48.74" y="236.34" width="0.44" height="9.20" fill="#c898a8"/>
<rect x="54.20" y="236.34" width="2.05" height="9.20" fill="#782840"/>
<rect x="54.69" y="236.34" width="0.26" height="9.20" fill="#f4e6ea"/>
<rect x="54.31" y="236.34" width="0.39" height="9.20" fill="#4a0c20"/>
<rect x="54.75" y="236.34" width="0.32" height="9.20" fill="#4a0c20"/>
<rect x="57.01" y="236.34" width="1.71" height="9.20" fill="#782840"/>
<rect x="57.99" y="236.34" width="0.41" height="9.20" fill="#b07888"/>
<rect x="59.39" y="236.34" width="2.72" height="9.20" fill="#5e1530"/>
<rect x="60.31" y="236.34" width="0.33" height="9.20" fill="#c898a8"/>
<rect x="60.95" y="236.34" width="0.37" height="9.20" fill="#4a0c20"/>
<rect x="62.78" y="236.34" width="3.79" height="9.20" fill="#5e1530"/>
<rect x="65.51" y="236.34" width="0.46" height="9.20" fill="#f4e6ea"/>
<rect x="69.00" y="236.34" width="3.10" height="9.20" fill="#6a1a34"/>
<rect x="70.14" y="236.34" width="0.36" height="9.20" fill="#b07888"/>
<rect x="72.56" y="236.34" width="0.34" height="9.20" fill="#782840"/>
<rect x="72.55" y="236.34" width="0.36" height="9.20" fill="#c898a8"/>
<rect x="72.54" y="236.34" width="0.47" height="9.20" fill="#f4e6ea"/>
<rect x="75.80" y="236.34" width="1.79" height="9.20" fill="#782840"/>
<rect x="76.84" y="236.34" width="0.25" height="9.20" fill="#f4e6ea"/>
<rect x="78.35" y="236.34" width="1.59" height="9.20" fill="#782840"/>
<rect x="78.61" y="236.34" width="0.31" height="9.20" fill="#f4e6ea"/>
<rect x="79.05" y="236.34" width="0.31" height="9.20" fill="#b07888"/>
<rect x="80.69" y="236.34" width="2.51" height="9.20" fill="#5e1530"/>
<rect x="81.84" y="236.34" width="0.45" height="9.20" fill="#f4e6ea"/>
<rect x="82.49" y="236.34" width="0.37" height="9.20" fill="#f4e6ea"/>
<rect x="82.62" y="236.34" width="0.34" height="9.20" fill="#4a0c20"/>
<rect x="83.76" y="236.34" width="2.05" height="9.20" fill="#782840"/>
<rect x="85.38" y="236.34" width="0.45" height="9.20" fill="#c898a8"/>
<rect x="85.06" y="236.34" width="0.26" height="9.20" fill="#b07888"/>
<rect x="86.57" y="236.34" width="3.69" height="9.20" fill="#853652"/>
<rect x="88.91" y="236.34" width="0.40" height="9.20" fill="#b07888"/>
<rect x="90.79" y="236.34" width="2.21" height="9.20" fill="#782840"/>
<rect x="92.13" y="236.34" width="0.40" height="9.20" fill="#4a0c20"/>
<rect x="91.06" y="236.34" width="0.44" height="9.20" fill="#4a0c20"/>
<rect x="91.16" y="236.34" width="0.48" height="9.20" fill="#b07888"/>
<rect x="25.80" y="247.74" width="0.60" height="7.86" fill="#6a1a34"/>
<rect x="25.94" y="247.74" width="0.27" height="7.86" fill="#c898a8"/>
<rect x="25.80" y="247.74" width="0.30" height="7.86" fill="#b07888"/>
<rect x="27.20" y="246.72" width="0.50" height="8.88" fill="#782840"/>
<rect x="27.25" y="246.72" width="0.38" height="8.88" fill="#b07888"/>
<rect x="30.60" y="247.66" width="3.91" height="7.94" fill="#853652"/>
<rect x="32.55" y="247.66" width="0.50" height="7.94" fill="#4a0c20"/>
<rect x="35.02" y="248.05" width="3.22" height="7.55" fill="#853652"/>
<rect x="36.32" y="248.05" width="0.49" height="7.55" fill="#4a0c20"/>
<rect x="36.86" y="248.05" width="0.25" height="7.55" fill="#f4e6ea"/>
<rect x="37.03" y="248.05" width="0.37" height="7.55" fill="#c898a8"/>
<rect x="38.84" y="248.22" width="0.36" height="7.38" fill="#782840"/>
<rect x="38.84" y="248.22" width="0.41" height="7.38" fill="#c898a8"/>
<rect x="38.80" y="248.22" width="0.44" height="7.38" fill="#4a0c20"/>
<rect x="38.83" y="248.22" width="0.30" height="7.38" fill="#4a0c20"/>
<rect x="41.20" y="247.20" width="3.86" height="8.40" fill="#5e1530"/>
<rect x="44.06" y="247.20" width="0.27" height="8.40" fill="#b07888"/>
<rect x="43.35" y="247.20" width="0.28" height="8.40" fill="#b07888"/>
<rect x="45.49" y="246.70" width="2.51" height="8.90" fill="#6a1a34"/>
<rect x="45.97" y="246.70" width="0.29" height="8.90" fill="#4a0c20"/>
<rect x="48.54" y="247.61" width="3.43" height="7.99" fill="#853652"/>
<rect x="48.97" y="247.61" width="0.30" height="7.99" fill="#b07888"/>
<rect x="51.03" y="247.61" width="0.35" height="7.99" fill="#c898a8"/>
<rect x="51.33" y="247.61" width="0.41" height="7.99" fill="#f4e6ea"/>
<rect x="54.20" y="246.79" width="2.29" height="8.81" fill="#782840"/>
<rect x="56.07" y="246.79" width="0.38" height="8.81" fill="#c898a8"/>
<rect x="54.83" y="246.79" width="0.34" height="8.81" fill="#f4e6ea"/>
<rect x="54.40" y="246.79" width="0.34" height="8.81" fill="#c898a8"/>
<rect x="57.20" y="247.11" width="3.56" height="8.49" fill="#782840"/>
<rect x="59.62" y="247.11" width="0.48" height="8.49" fill="#b07888"/>
<rect x="58.31" y="247.11" width="0.38" height="8.49" fill="#b07888"/>
<rect x="61.37" y="246.52" width="2.00" height="9.08" fill="#782840"/>
<rect x="62.88" y="246.52" width="0.41" height="9.08" fill="#b07888"/>
<rect x="62.61" y="246.52" width="0.28" height="9.08" fill="#f4e6ea"/>
<rect x="62.29" y="246.52" width="0.42" height="9.08" fill="#c898a8"/>
<rect x="63.76" y="247.75" width="3.24" height="7.85" fill="#6a1a34"/>
<rect x="66.52" y="247.75" width="0.28" height="7.85" fill="#4a0c20"/>
<rect x="65.35" y="247.75" width="0.32" height="7.85" fill="#c898a8"/>
<rect x="69.00" y="246.72" width="1.81" height="8.88" fill="#5e1530"/>
<rect x="70.26" y="246.72" width="0.31" height="8.88" fill="#c898a8"/>
<rect x="70.17" y="246.72" width="0.30" height="8.88" fill="#4a0c20"/>
<rect x="69.64" y="246.72" width="0.35" height="8.88" fill="#b07888"/>
<rect x="71.30" y="246.88" width="2.50" height="8.72" fill="#853652"/>
<rect x="72.54" y="246.88" width="0.45" height="8.72" fill="#4a0c20"/>
<rect x="71.63" y="246.88" width="0.35" height="8.72" fill="#4a0c20"/>
<rect x="71.60" y="246.88" width="0.35" height="8.72" fill="#f4e6ea"/>
<rect x="77.70" y="247.75" width="2.80" height="7.85" fill="#5e1530"/>
<rect x="79.24" y="247.75" width="0.26" height="7.85" fill="#b07888"/>
<rect x="81.03" y="248.05" width="0.47" height="7.55" fill="#5e1530"/>
<rect x="81.09" y="248.05" width="0.48" height="7.55" fill="#f4e6ea"/>
<rect x="81.08" y="248.05" width="0.37" height="7.55" fill="#f4e6ea"/>
<rect x="83.00" y="247.49" width="3.64" height="8.11" fill="#853652"/>
<rect x="84.83" y="247.49" width="0.48" height="8.11" fill="#c898a8"/>
<rect x="88.30" y="246.58" width="2.58" height="9.02" fill="#5e1530"/>
<rect x="88.95" y="246.58" width="0.40" height="9.02" fill="#f4e6ea"/>
<rect x="91.56" y="246.86" width="2.99" height="8.74" fill="#5e1530"/>
<rect x="93.83" y="246.86" width="0.31" height="8.74" fill="#f4e6ea"/>
<rect x="92.19" y="246.86" width="0.47" height="8.74" fill="#4a0c20"/>
<rect x="92.79" y="246.86" width="0.28" height="8.74" fill="#b07888"/>
<rect x="95.15" y="246.51" width="3.14" height="9.09" fill="#6a1a34"/>
<rect x="97.80" y="246.51" width="0.42" height="9.09" fill="#f4e6ea"/>
<rect x="96.70" y="246.51" width="0.29" height="9.09" fill="#f4e6ea"/>
<rect x="96.70" y="246.51" width="0.48" height="9.09" fill="#4a0c20"/>
<rect x="98.87" y="246.62" width="1.82" height="8.98" fill="#853652"/>
<rect x="99.30" y="246.62" width="0.43" height="8.98" fill="#4a0c20"/>
<rect x="101.20" y="246.59" width="1.66" height="9.01" fill="#853652"/>
<rect x="101.64" y="246.59" width="0.40" height="9.01" fill="#4a0c20"/>
<rect x="103.34" y="247.66" width="2.64" height="7.94" fill="#5e1530"/>
<rect x="103.66" y="247.66" width="0.44" height="7.94" fill="#f4e6ea"/>
<rect x="105.31" y="247.66" width="0.30" height="7.94" fill="#4a0c20"/>
<rect x="106.42" y="247.59" width="2.08" height="8.01" fill="#853652"/>
<rect x="106.71" y="247.59" width="0.47" height="8.01" fill="#b07888"/>
<rect x="25.80" y="256.55" width="0.60" height="9.11" fill="#6a1a34"/>
<rect x="25.82" y="256.55" width="0.43" height="9.11" fill="#c898a8"/>
<rect x="25.99" y="256.55" width="0.32" height="9.11" fill="#f4e6ea"/>
<rect x="25.94" y="256.55" width="0.28" height="9.11" fill="#f4e6ea"/>
<rect x="27.20" y="256.71" width="0.50" height="8.95" fill="#6a1a34"/>
<rect x="27.27" y="256.71" width="0.32" height="8.95" fill="#b07888"/>
<rect x="27.25" y="256.71" width="0.32" height="8.95" fill="#c898a8"/>
<rect x="27.24" y="256.71" width="0.42" height="8.95" fill="#4a0c20"/>
<rect x="30.60" y="257.75" width="2.07" height="7.91" fill="#782840"/>
<rect x="30.98" y="257.75" width="0.28" height="7.91" fill="#4a0c20"/>
<rect x="31.37" y="257.75" width="0.27" height="7.91" fill="#4a0c20"/>
<rect x="31.49" y="257.75" width="0.26" height="7.91" fill="#c898a8"/>
<rect x="33.26" y="257.25" width="2.56" height="8.41" fill="#782840"/>
<rect x="35.40" y="257.25" width="0.30" height="8.41" fill="#b07888"/>
<rect x="33.87" y="257.25" width="0.39" height="8.41" fill="#b07888"/>
<rect x="36.53" y="256.65" width="1.88" height="9.01" fill="#853652"/>
<rect x="37.10" y="256.65" width="0.48" height="9.01" fill="#f4e6ea"/>
<rect x="36.62" y="256.65" width="0.27" height="9.01" fill="#c898a8"/>
<rect x="37.00" y="256.65" width="0.37" height="9.01" fill="#4a0c20"/>
<rect x="41.20" y="256.74" width="2.76" height="8.92" fill="#782840"/>
<rect x="43.04" y="256.74" width="0.29" height="8.92" fill="#f4e6ea"/>
<rect x="41.76" y="256.74" width="0.36" height="8.92" fill="#c898a8"/>
<rect x="43.06" y="256.74" width="0.45" height="8.92" fill="#b07888"/>
<rect x="44.43" y="256.73" width="2.86" height="8.93" fill="#853652"/>
<rect x="44.52" y="256.73" width="0.40" height="8.93" fill="#4a0c20"/>
<rect x="45.84" y="256.73" width="0.47" height="8.93" fill="#b07888"/>
<rect x="47.79" y="257.18" width="3.02" height="8.48" fill="#853652"/>
<rect x="48.95" y="257.18" width="0.32" height="8.48" fill="#4a0c20"/>
<rect x="47.98" y="257.18" width="0.48" height="8.48" fill="#b07888"/>
<rect x="49.42" y="257.18" width="0.26" height="8.48" fill="#f4e6ea"/>
<rect x="51.18" y="257.16" width="1.52" height="8.50" fill="#5e1530"/>
<rect x="51.74" y="257.16" width="0.41" height="8.50" fill="#b07888"/>
<rect x="51.60" y="257.16" width="0.31" height="8.50" fill="#f4e6ea"/>
<rect x="51.95" y="257.16" width="0.46" height="8.50" fill="#f4e6ea"/>
<rect x="54.20" y="257.63" width="2.53" height="8.03" fill="#782840"/>
<rect x="56.26" y="257.63" width="0.26" height="8.03" fill="#f4e6ea"/>
<rect x="55.81" y="257.63" width="0.40" height="8.03" fill="#b07888"/>
<rect x="54.51" y="257.63" width="0.36" height="8.03" fill="#4a0c20"/>
<rect x="57.08" y="257.33" width="2.52" height="8.33" fill="#6a1a34"/>
<rect x="58.26" y="257.33" width="0.37" height="8.33" fill="#4a0c20"/>
<rect x="59.14" y="257.33" width="0.42" height="8.33" fill="#b07888"/>
<rect x="60.09" y="256.73" width="1.80" height="8.93" fill="#853652"/>
<rect x="60.21" y="256.73" width="0.31" height="8.93" fill="#c898a8"/>
<rect x="60.56" y="256.73" width="0.50" height="8.93" fill="#b07888"/>
<rect x="62.25" y="257.10" width="2.51" height="8.56" fill="#6a1a34"/>
<rect x="62.97" y="257.10" width="0.42" height="8.56" fill="#b07888"/>
<rect x="63.23" y="257.10" width="0.35" height="8.56" fill="#b07888"/>
<rect x="63.05" y="257.10" width="0.45" height="8.56" fill="#b07888"/>
<rect x="65.30" y="256.84" width="1.70" height="8.82" fill="#782840"/>
<rect x="65.56" y="256.84" width="0.30" height="8.82" fill="#f4e6ea"/>
<rect x="66.29" y="256.84" width="0.37" height="8.82" fill="#f4e6ea"/>
<rect x="69.00" y="256.71" width="3.20" height="8.95" fill="#782840"/>
<rect x="70.07" y="256.71" width="0.27" height="8.95" fill="#c898a8"/>
<rect x="70.02" y="256.71" width="0.32" height="8.95" fill="#4a0c20"/>
<rect x="70.45" y="256.71" width="0.44" height="8.95" fill="#f4e6ea"/>
<rect x="72.80" y="257.90" width="1.00" height="7.76" fill="#6a1a34"/>
<rect x="72.84" y="257.90" width="0.43" height="7.76" fill="#c898a8"/>
<rect x="72.89" y="257.90" width="0.31" height="7.76" fill="#4a0c20"/>
<rect x="77.70" y="257.59" width="2.31" height="8.07" fill="#6a1a34"/>
<rect x="78.32" y="257.59" width="0.44" height="8.07" fill="#4a0c20"/>
<rect x="78.28" y="257.59" width="0.40" height="8.07" fill="#f4e6ea"/>
<rect x="80.37" y="257.20" width="1.13" height="8.46" fill="#6a1a34"/>
<rect x="80.60" y="257.20" width="0.36" height="8.46" fill="#b07888"/>
<rect x="88.30" y="257.72" width="2.87" height="7.94" fill="#853652"/>
<rect x="89.23" y="257.72" width="0.47" height="7.94" fill="#c898a8"/>
<rect x="89.62" y="257.72" width="0.36" height="7.94" fill="#b07888"/>
<rect x="89.25" y="257.72" width="0.47" height="7.94" fill="#b07888"/>
<rect x="91.57" y="257.18" width="2.43" height="8.48" fill="#782840"/>
<rect x="93.29" y="257.18" width="0.44" height="8.48" fill="#f4e6ea"/>
<rect x="94.60" y="256.50" width="3.52" height="9.16" fill="#5e1530"/>
<rect x="96.69" y="256.50" width="0.48" height="9.16" fill="#b07888"/>
<rect x="96.34" y="256.50" width="0.34" height="9.16" fill="#4a0c20"/>
<rect x="97.58" y="256.50" width="0.47" height="9.16" fill="#b07888"/>
<rect x="98.82" y="256.83" width="2.15" height="8.83" fill="#6a1a34"/>
<rect x="99.68" y="256.83" width="0.37" height="8.83" fill="#c898a8"/>
<rect x="99.32" y="256.83" width="0.43" height="8.83" fill="#b07888"/>
<rect x="101.39" y="257.43" width="2.51" height="8.23" fill="#782840"/>
<rect x="102.79" y="257.43" width="0.31" height="8.23" fill="#4a0c20"/>
<rect x="102.96" y="257.43" width="0.48" height="8.23" fill="#b07888"/>
<rect x="104.46" y="256.73" width="2.14" height="8.93" fill="#5e1530"/>
<rect x="106.06" y="256.73" width="0.48" height="8.93" fill="#4a0c20"/>
<rect x="105.10" y="256.73" width="0.27" height="8.93" fill="#f4e6ea"/>
<rect x="104.94" y="256.73" width="0.34" height="8.93" fill="#c898a8"/>
<rect x="107.17" y="257.83" width="1.33" height="7.83" fill="#6a1a34"/>
<rect x="107.49" y="257.83" width="0.47" height="7.83" fill="#c898a8"/>
<rect x="45.00" y="274.92" width="0.50" height="0.80" fill="#5bbbb2"/>
<rect x="46.89" y="274.92" width="0.40" height="0.80" fill="#8fd6cf"/>
<rect x="49.13" y="274.92" width="0.58" height="0.80" fill="#8fd6cf"/>
<rect x="51.45" y="274.92" width="0.42" height="0.80" fill="#a9e0da"/>
<rect x="52.77" y="274.92" width="0.44" height="0.80" fill="#5bbbb2"/>
<rect x="54.04" y="274.92" width="0.34" height="0.80" fill="#a9e0da"/>
<rect x="56.13" y="274.92" width="0.44" height="0.80" fill="#b8e6e1"/>
<rect x="57.68" y="274.92" width="0.37" height="0.80" fill="#6cc5bd"/>
<rect x="59.81" y="274.92" width="0.58" height="0.80" fill="#8fd6cf"/>
<rect x="61.44" y="274.92" width="0.45" height="0.80" fill="#b8e6e1"/>
<rect x="62.79" y="274.92" width="0.55" height="0.80" fill="#a9e0da"/>
<rect x="64.46" y="274.92" width="0.33" height="0.80" fill="#6cc5bd"/>
<rect x="66.91" y="274.92" width="0.51" height="0.80" fill="#6cc5bd"/>
<rect x="68.40" y="274.92" width="0.49" height="0.80" fill="#b8e6e1"/>
<rect x="70.13" y="274.92" width="0.42" height="0.80" fill="#b8e6e1"/>
<rect x="72.23" y="274.92" width="0.49" height="0.80" fill="#6cc5bd"/>
<rect x="75.08" y="274.92" width="0.52" height="0.80" fill="#8fd6cf"/>
<rect x="77.75" y="274.92" width="0.57" height="0.80" fill="#5bbbb2"/>
<rect x="79.87" y="274.92" width="0.50" height="0.80" fill="#b8e6e1"/>
<rect x="82.63" y="274.92" width="0.56" height="0.80" fill="#a9e0da"/>
<rect x="84.55" y="274.92" width="0.52" height="0.80" fill="#a9e0da"/>
<rect x="87.03" y="274.92" width="0.38" height="0.80" fill="#a9e0da"/>
<rect x="88.57" y="274.92" width="0.56" height="0.80" fill="#b8e6e1"/>
<rect x="91.26" y="274.92" width="0.47" height="0.80" fill="#6cc5bd"/>
<rect x="93.58" y="274.92" width="0.55" height="0.80" fill="#6cc5bd"/>
<rect x="45.00" y="284.98" width="0.49" height="0.80" fill="#6cc5bd"/>
<rect x="47.95" y="284.98" width="0.44" height="0.80" fill="#6cc5bd"/>
<rect x="49.64" y="284.98" width="0.38" height="0.80" fill="#5bbbb2"/>
<rect x="51.53" y="284.98" width="0.50" height="0.80" fill="#6cc5bd"/>
<rect x="54.02" y="284.98" width="0.34" height="0.80" fill="#a9e0da"/>
<rect x="55.86" y="284.98" width="0.46" height="0.80" fill="#5bbbb2"/>
<rect x="57.65" y="284.98" width="0.31" height="0.80" fill="#5bbbb2"/>
<rect x="59.16" y="284.98" width="0.32" height="0.80" fill="#a9e0da"/>
<rect x="60.76" y="284.98" width="0.52" height="0.80" fill="#6cc5bd"/>
<rect x="63.73" y="284.98" width="0.42" height="0.80" fill="#b8e6e1"/>
<rect x="65.44" y="284.98" width="0.56" height="0.80" fill="#8fd6cf"/>
<rect x="67.64" y="284.98" width="0.57" height="0.80" fill="#5bbbb2"/>
<rect x="69.05" y="284.98" width="0.40" height="0.80" fill="#b8e6e1"/>
<rect x="71.28" y="284.98" width="0.38" height="0.80" fill="#a9e0da"/>
<rect x="72.89" y="284.98" width="0.44" height="0.80" fill="#a9e0da"/>
<rect x="75.09" y="284.98" width="0.35" height="0.80" fill="#a9e0da"/>
<rect x="77.50" y="284.98" width="0.30" height="0.80" fill="#6cc5bd"/>
<rect x="80.50" y="284.98" width="0.36" height="0.80" fill="#5bbbb2"/>
<rect x="81.75" y="284.98" width="0.41" height="0.80" fill="#b8e6e1"/>
<rect x="83.06" y="284.98" width="0.47" height="0.80" fill="#b8e6e1"/>
<rect x="84.71" y="284.98" width="0.36" height="0.80" fill="#6cc5bd"/>
<rect x="87.70" y="284.98" width="0.43" height="0.80" fill="#8fd6cf"/>
<rect x="89.22" y="284.98" width="0.31" height="0.80" fill="#8fd6cf"/>
<rect x="91.63" y="284.98" width="0.38" height="0.80" fill="#b8e6e1"/>
<rect x="93.39" y="284.98" width="0.45" height="0.80" fill="#6cc5bd"/>
<rect x="94.70" y="284.98" width="0.30" height="0.80" fill="#a9e0da"/>
<rect x="45.00" y="295.04" width="0.54" height="0.80" fill="#5bbbb2"/>
<rect x="46.75" y="295.04" width="0.46" height="0.80" fill="#8fd6cf"/>
<rect x="49.64" y="295.04" width="0.44" height="0.80" fill="#5bbbb2"/>
<rect x="51.29" y="295.04" width="0.57" height="0.80" fill="#b8e6e1"/>
<rect x="52.74" y="295.04" width="0.40" height="0.80" fill="#b8e6e1"/>
<rect x="55.13" y="295.04" width="0.54" height="0.80" fill="#5bbbb2"/>
<rect x="56.96" y="295.04" width="0.38" height="0.80" fill="#a9e0da"/>
<rect x="59.23" y="295.04" width="0.38" height="0.80" fill="#6cc5bd"/>
<rect x="60.81" y="295.04" width="0.52" height="0.80" fill="#6cc5bd"/>
<rect x="62.33" y="295.04" width="0.33" height="0.80" fill="#a9e0da"/>
<rect x="63.86" y="295.04" width="0.31" height="0.80" fill="#8fd6cf"/>
<rect x="65.79" y="295.04" width="0.40" height="0.80" fill="#6cc5bd"/>
<rect x="67.02" y="295.04" width="0.35" height="0.80" fill="#b8e6e1"/>
<rect x="68.42" y="295.04" width="0.60" height="0.80" fill="#6cc5bd"/>
<rect x="70.52" y="295.04" width="0.53" height="0.80" fill="#a9e0da"/>
<rect x="71.84" y="295.04" width="0.42" height="0.80" fill="#6cc5bd"/>
<rect x="74.44" y="295.04" width="0.46" height="0.80" fill="#5bbbb2"/>
<rect x="77.28" y="295.04" width="0.32" height="0.80" fill="#a9e0da"/>
<rect x="80.08" y="295.04" width="0.56" height="0.80" fill="#b8e6e1"/>
<rect x="83.03" y="295.04" width="0.58" height="0.80" fill="#5bbbb2"/>
<rect x="85.01" y="295.04" width="0.44" height="0.80" fill="#b8e6e1"/>
<rect x="86.63" y="295.04" width="0.48" height="0.80" fill="#b8e6e1"/>
<rect x="89.48" y="295.04" width="0.46" height="0.80" fill="#a9e0da"/>
<rect x="91.75" y="295.04" width="0.48" height="0.80" fill="#6cc5bd"/>
<rect x="93.92" y="295.04" width="0.40" height="0.80" fill="#b8e6e1"/>
<rect x="161.00" y="212.88" width="0.45" height="2.48" fill="#a8687a"/>
<rect x="162.66" y="213.35" width="0.49" height="2.01" fill="#a8687a"/>
<rect x="164.49" y="213.01" width="0.34" height="2.35" fill="#b87f8a"/>
<rect x="168.48" y="213.84" width="0.46" height="1.52" fill="#c08a94"/>
<rect x="170.17" y="213.44" width="0.47" height="1.92" fill="#c08a94"/>
<rect x="173.23" y="214.45" width="0.37" height="0.91" fill="#c99aa2"/>
<rect x="177.32" y="214.30" width="0.34" height="1.06" fill="#b87f8a"/>
<rect x="179.04" y="213.29" width="0.41" height="2.07" fill="#a8687a"/>
<rect x="183.17" y="213.87" width="0.31" height="1.49" fill="#c99aa2"/>
<rect x="186.99" y="213.05" width="0.41" height="2.31" fill="#b87f8a"/>
<rect x="190.92" y="214.19" width="0.34" height="1.17" fill="#c08a94"/>
<rect x="195.29" y="214.28" width="0.34" height="1.08" fill="#a8687a"/>
<rect x="197.33" y="213.16" width="0.38" height="2.20" fill="#a8687a"/>
<rect x="201.54" y="212.88" width="0.31" height="2.48" fill="#b87f8a"/>
<rect x="204.63" y="212.95" width="0.36" height="2.41" fill="#b87f8a"/>
<rect x="163.00" y="223.66" width="0.50" height="1.76" fill="#c08a94"/>
<rect x="166.16" y="222.07" width="0.47" height="3.35" fill="#b87f8a"/>
<rect x="169.31" y="224.36" width="0.34" height="1.06" fill="#a8687a"/>
<rect x="170.62" y="224.00" width="0.36" height="1.42" fill="#c08a94"/>
<rect x="173.53" y="224.17" width="0.37" height="1.25" fill="#c99aa2"/>
<rect x="176.67" y="223.71" width="0.45" height="1.71" fill="#c08a94"/>
<rect x="180.02" y="224.52" width="0.34" height="0.90" fill="#c08a94"/>
<rect x="182.41" y="223.57" width="0.46" height="1.85" fill="#a8687a"/>
<rect x="183.98" y="224.45" width="0.32" height="0.97" fill="#a8687a"/>
<rect x="185.84" y="223.92" width="0.42" height="1.50" fill="#c08a94"/>
<rect x="189.71" y="222.90" width="0.32" height="2.52" fill="#b87f8a"/>
<rect x="193.52" y="222.64" width="0.38" height="2.78" fill="#b87f8a"/>
<rect x="195.98" y="223.55" width="0.31" height="1.87" fill="#c08a94"/>
<rect x="198.81" y="223.97" width="0.43" height="1.45" fill="#c99aa2"/>
<rect x="201.90" y="223.57" width="0.35" height="1.85" fill="#b87f8a"/>
<rect x="150.50" y="238.69" width="0.95" height="6.85" fill="#7a2842"/>
<rect x="151.80" y="238.17" width="0.70" height="7.37" fill="#9a5066"/>
<rect x="153.50" y="238.61" width="0.86" height="6.93" fill="#6a1a34"/>
<rect x="154.65" y="238.70" width="0.35" height="6.84" fill="#9a5066"/>
<rect x="162.00" y="238.11" width="0.74" height="7.43" fill="#5a1228"/>
<rect x="163.50" y="239.05" width="0.66" height="6.49" fill="#6a1a34"/>
<rect x="164.88" y="238.37" width="0.73" height="7.17" fill="#9a5066"/>
<rect x="166.02" y="239.10" width="0.69" height="6.44" fill="#8a3a52"/>
<rect x="167.38" y="238.51" width="0.69" height="7.03" fill="#5a1228"/>
<rect x="169.07" y="238.60" width="0.63" height="6.94" fill="#8a3a52"/>
<rect x="170.65" y="238.54" width="0.97" height="7.00" fill="#9a5066"/>
<rect x="171.87" y="238.97" width="0.75" height="6.57" fill="#8a3a52"/>
<rect x="173.03" y="239.12" width="0.92" height="6.42" fill="#9a5066"/>
<rect x="174.60" y="238.38" width="0.96" height="7.16" fill="#8a3a52"/>
<rect x="176.17" y="238.60" width="0.65" height="6.94" fill="#5a1228"/>
<rect x="177.49" y="238.19" width="0.75" height="7.35" fill="#5a1228"/>
<rect x="178.66" y="238.49" width="0.77" height="7.05" fill="#5a1228"/>
<rect x="180.22" y="238.00" width="0.64" height="7.54" fill="#9a5066"/>
<rect x="181.40" y="238.98" width="0.83" height="6.56" fill="#5a1228"/>
<rect x="182.80" y="238.73" width="0.72" height="6.81" fill="#6a1a34"/>
<rect x="184.05" y="239.07" width="0.77" height="6.47" fill="#6a1a34"/>
<rect x="185.51" y="239.01" width="0.67" height="6.53" fill="#6a1a34"/>
<rect x="187.12" y="238.17" width="0.64" height="7.37" fill="#6a1a34"/>
<rect x="188.30" y="238.93" width="0.83" height="6.61" fill="#9a5066"/>
<rect x="189.77" y="238.04" width="0.95" height="7.50" fill="#8a3a52"/>
<rect x="191.36" y="238.23" width="0.69" height="7.31" fill="#5a1228"/>
<rect x="192.90" y="238.95" width="0.89" height="6.59" fill="#9a5066"/>
<rect x="194.37" y="238.57" width="0.76" height="6.97" fill="#9a5066"/>
<rect x="195.86" y="239.08" width="0.94" height="6.46" fill="#8a3a52"/>
<rect x="197.14" y="238.52" width="0.69" height="7.02" fill="#8a3a52"/>
<rect x="198.44" y="238.39" width="0.80" height="7.15" fill="#9a5066"/>
<rect x="203.00" y="238.56" width="0.83" height="6.98" fill="#5a1228"/>
<rect x="204.34" y="238.29" width="0.66" height="7.25" fill="#7a2842"/>
<rect x="207.00" y="238.23" width="0.63" height="7.31" fill="#8a3a52"/>
<rect x="208.32" y="238.62" width="0.77" height="6.92" fill="#5a1228"/>
<rect x="209.60" y="238.94" width="0.81" height="6.60" fill="#8a3a52"/>
<rect x="162.00" y="248.94" width="0.76" height="6.66" fill="#5a1228"/>
<rect x="163.53" y="248.78" width="0.61" height="6.82" fill="#6a1a34"/>
<rect x="164.94" y="248.36" width="0.81" height="7.24" fill="#7a2842"/>
<rect x="166.28" y="249.18" width="0.99" height="6.42" fill="#9a5066"/>
<rect x="167.60" y="248.10" width="0.70" height="7.50" fill="#7a2842"/>
<rect x="169.20" y="248.32" width="0.68" height="7.28" fill="#5a1228"/>
<rect x="170.49" y="248.60" width="0.80" height="7.00" fill="#7a2842"/>
<rect x="171.62" y="248.90" width="0.64" height="6.70" fill="#7a2842"/>
<rect x="173.21" y="248.46" width="0.98" height="7.14" fill="#7a2842"/>
<rect x="174.55" y="248.42" width="0.71" height="7.18" fill="#5a1228"/>
<rect x="175.89" y="248.90" width="0.69" height="6.70" fill="#5a1228"/>
<rect x="177.18" y="248.30" width="0.93" height="7.30" fill="#7a2842"/>
<rect x="178.31" y="249.13" width="0.91" height="6.47" fill="#9a5066"/>
<rect x="179.46" y="248.80" width="0.54" height="6.80" fill="#5a1228"/>
<rect x="181.50" y="248.95" width="0.87" height="6.65" fill="#9a5066"/>
<rect x="182.60" y="248.71" width="0.89" height="6.89" fill="#5a1228"/>
<rect x="183.81" y="248.41" width="0.63" height="7.19" fill="#6a1a34"/>
<rect x="185.13" y="248.69" width="0.78" height="6.91" fill="#5a1228"/>
<rect x="188.00" y="248.36" width="0.96" height="7.24" fill="#5a1228"/>
<rect x="189.67" y="248.25" width="0.33" height="7.35" fill="#5a1228"/>
<rect x="193.00" y="248.41" width="0.76" height="7.19" fill="#9a5066"/>
<rect x="194.17" y="249.08" width="0.83" height="6.52" fill="#7a2842"/>
<rect x="198.00" y="249.05" width="0.94" height="6.55" fill="#7a2842"/>
<rect x="199.38" y="248.70" width="0.61" height="6.90" fill="#8a3a52"/>
<rect x="162.00" y="260.02" width="0.88" height="5.64" fill="#8a3a52"/>
<rect x="163.51" y="258.95" width="0.76" height="6.71" fill="#5a1228"/>
<rect x="164.94" y="258.97" width="0.94" height="6.69" fill="#7a2842"/>
<rect x="166.16" y="261.27" width="0.74" height="4.39" fill="#7a2842"/>
<rect x="167.49" y="259.31" width="0.92" height="6.35" fill="#8a3a52"/>
<rect x="168.94" y="260.54" width="0.94" height="5.12" fill="#9a5066"/>
<rect x="170.12" y="260.39" width="0.88" height="5.27" fill="#5a1228"/>
<rect x="171.64" y="260.90" width="0.69" height="4.76" fill="#8a3a52"/>
<rect x="173.09" y="261.65" width="0.70" height="4.01" fill="#7a2842"/>
<rect x="174.41" y="260.26" width="0.89" height="5.40" fill="#9a5066"/>
<rect x="175.55" y="260.33" width="0.67" height="5.33" fill="#9a5066"/>
<rect x="176.93" y="261.02" width="0.79" height="4.64" fill="#9a5066"/>
<rect x="178.09" y="258.69" width="0.72" height="6.97" fill="#5a1228"/>
<rect x="179.78" y="261.29" width="0.22" height="4.37" fill="#8a3a52"/>
<rect x="181.50" y="258.30" width="0.66" height="7.36" fill="#7a2842"/>
<rect x="183.08" y="258.93" width="0.64" height="6.73" fill="#6a1a34"/>
<rect x="184.78" y="259.11" width="0.94" height="6.55" fill="#7a2842"/>
<rect x="185.95" y="259.69" width="0.05" height="5.97" fill="#7a2842"/>
<rect x="188.00" y="258.30" width="0.75" height="7.36" fill="#7a2842"/>
<rect x="195.00" y="258.18" width="0.93" height="7.48" fill="#5a1228"/>
<rect x="196.25" y="259.86" width="0.61" height="5.80" fill="#7a2842"/>
<rect x="199.00" y="259.77" width="0.71" height="5.89" fill="#7a2842"/>
<rect x="162.00" y="275.08" width="0.35" height="0.64" fill="#a9e0da"/>
<rect x="165.86" y="274.95" width="0.33" height="0.77" fill="#b8e6e1"/>
<rect x="169.50" y="274.77" width="0.42" height="0.95" fill="#6cc5bd"/>
<rect x="172.33" y="274.32" width="0.43" height="1.40" fill="#a9e0da"/>
<rect x="174.60" y="274.48" width="0.39" height="1.24" fill="#b8e6e1"/>
<rect x="176.68" y="274.98" width="0.39" height="0.74" fill="#6cc5bd"/>
<rect x="180.54" y="274.74" width="0.40" height="0.98" fill="#a9e0da"/>
<rect x="184.25" y="274.76" width="0.32" height="0.96" fill="#b8e6e1"/>
<rect x="188.11" y="275.33" width="0.43" height="0.39" fill="#8fd6cf"/>
<rect x="189.86" y="275.28" width="0.41" height="0.44" fill="#a9e0da"/>
<rect x="192.13" y="275.35" width="0.47" height="0.37" fill="#8fd6cf"/>
<rect x="193.99" y="275.25" width="0.38" height="0.47" fill="#b8e6e1"/>
<rect x="196.84" y="274.60" width="0.39" height="1.12" fill="#8fd6cf"/>
<rect x="199.66" y="274.82" width="0.34" height="0.90" fill="#6cc5bd"/>
<rect x="203.00" y="274.33" width="0.32" height="1.39" fill="#6cc5bd"/>
<rect x="204.09" y="273.30" width="0.40" height="2.42" fill="#b8e6e1"/>
<rect x="205.20" y="274.04" width="0.48" height="1.68" fill="#6cc5bd"/>
<rect x="207.04" y="272.28" width="0.49" height="3.44" fill="#6cc5bd"/>
<rect x="209.07" y="274.62" width="0.49" height="1.10" fill="#5bbbb2"/>
<rect x="162.00" y="284.79" width="0.50" height="0.99" fill="#b8e6e1"/>
<rect x="164.29" y="284.56" width="0.33" height="1.22" fill="#6cc5bd"/>
<rect x="168.19" y="285.35" width="0.31" height="0.43" fill="#a9e0da"/>
<rect x="172.08" y="285.44" width="0.30" height="0.34" fill="#6cc5bd"/>
<rect x="175.30" y="284.78" width="0.40" height="1.00" fill="#8fd6cf"/>
<rect x="176.81" y="284.53" width="0.31" height="1.25" fill="#5bbbb2"/>
<rect x="180.39" y="285.08" width="0.38" height="0.70" fill="#a9e0da"/>
<rect x="182.87" y="285.19" width="0.48" height="0.59" fill="#8fd6cf"/>
<rect x="185.83" y="285.08" width="0.41" height="0.70" fill="#a9e0da"/>
<rect x="188.47" y="284.42" width="0.35" height="1.36" fill="#6cc5bd"/>
<rect x="190.47" y="284.94" width="0.34" height="0.84" fill="#6cc5bd"/>
<rect x="193.93" y="285.19" width="0.37" height="0.59" fill="#b8e6e1"/>
<rect x="196.08" y="285.17" width="0.40" height="0.61" fill="#8fd6cf"/>
<rect x="198.04" y="285.12" width="0.35" height="0.66" fill="#a9e0da"/>
<rect x="203.00" y="284.65" width="0.34" height="1.13" fill="#6cc5bd"/>
<rect x="204.65" y="282.86" width="0.32" height="2.92" fill="#6cc5bd"/>
<rect x="206.18" y="283.37" width="0.31" height="2.41" fill="#6cc5bd"/>
<rect x="207.62" y="282.50" width="0.37" height="3.28" fill="#5bbbb2"/>
<rect x="209.82" y="283.09" width="0.38" height="2.69" fill="#6cc5bd"/>
<rect x="162.00" y="295.08" width="0.46" height="0.76" fill="#a9e0da"/>
<rect x="164.91" y="295.46" width="0.49" height="0.38" fill="#8fd6cf"/>
<rect x="166.54" y="294.39" width="0.31" height="1.45" fill="#5bbbb2"/>
<rect x="170.32" y="295.29" width="0.33" height="0.55" fill="#5bbbb2"/>
<rect x="174.22" y="295.13" width="0.49" height="0.71" fill="#6cc5bd"/>
<rect x="176.08" y="294.41" width="0.44" height="1.43" fill="#6cc5bd"/>
<rect x="178.17" y="295.26" width="0.44" height="0.58" fill="#5bbbb2"/>
<rect x="180.59" y="294.43" width="0.45" height="1.41" fill="#6cc5bd"/>
<rect x="184.44" y="295.32" width="0.31" height="0.52" fill="#a9e0da"/>
<rect x="187.63" y="295.15" width="0.32" height="0.69" fill="#b8e6e1"/>
<rect x="189.43" y="294.89" width="0.41" height="0.95" fill="#b8e6e1"/>
<rect x="192.04" y="295.23" width="0.46" height="0.61" fill="#8fd6cf"/>
<rect x="193.74" y="295.45" width="0.34" height="0.39" fill="#a9e0da"/>
<rect x="197.68" y="294.73" width="0.49" height="1.11" fill="#6cc5bd"/>
<rect x="199.58" y="294.86" width="0.37" height="0.98" fill="#a9e0da"/>
<rect x="203.00" y="293.33" width="0.48" height="2.51" fill="#a9e0da"/>
<rect x="204.72" y="293.65" width="0.47" height="2.19" fill="#6cc5bd"/>
<rect x="205.90" y="293.13" width="0.39" height="2.71" fill="#5bbbb2"/>
<rect x="207.82" y="294.66" width="0.38" height="1.18" fill="#6cc5bd"/>
<rect x="208.87" y="292.77" width="0.38" height="3.07" fill="#8fd6cf"/>
<rect x="209.90" y="292.43" width="0.38" height="3.41" fill="#b8e6e1"/>
<rect x="30.00" y="330.14" width="0.39" height="0.42" fill="#d9b3b8"/>
<rect x="32.67" y="330.00" width="0.49" height="0.56" fill="#b87f8a"/>
<rect x="37.42" y="329.61" width="0.35" height="0.95" fill="#e0c2c6"/>
<rect x="40.84" y="329.76" width="0.48" height="0.80" fill="#c08a94"/>
<rect x="44.56" y="330.07" width="0.42" height="0.49" fill="#a8687a"/>
<rect x="47.49" y="329.50" width="0.49" height="1.06" fill="#e0c2c6"/>
<rect x="51.37" y="329.44" width="0.41" height="1.12" fill="#e0c2c6"/>
<rect x="57.10" y="329.79" width="0.36" height="0.77" fill="#c08a94"/>
<rect x="59.73" y="330.05" width="0.49" height="0.51" fill="#cfa5ab"/>
<rect x="64.27" y="329.86" width="0.30" height="0.70" fill="#cfa5ab"/>
<rect x="68.26" y="329.83" width="0.48" height="0.73" fill="#c08a94"/>
<rect x="73.00" y="329.94" width="0.43" height="0.62" fill="#a8687a"/>
<rect x="77.30" y="329.88" width="0.43" height="0.68" fill="#cfa5ab"/>
<rect x="80.58" y="330.26" width="0.43" height="0.30" fill="#e0c2c6"/>
<rect x="86.46" y="329.89" width="0.36" height="0.67" fill="#cfa5ab"/>
<rect x="89.58" y="329.76" width="0.31" height="0.80" fill="#c08a94"/>
<rect x="94.77" y="329.45" width="0.35" height="1.11" fill="#cfa5ab"/>
<rect x="98.47" y="329.41" width="0.41" height="1.15" fill="#a8687a"/>
<rect x="103.91" y="330.02" width="0.33" height="0.54" fill="#b87f8a"/>
<rect x="109.62" y="329.66" width="0.43" height="0.90" fill="#a8687a"/>
<rect x="114.83" y="329.44" width="0.50" height="1.12" fill="#c89aa1"/>
<rect x="30.00" y="339.60" width="0.44" height="1.02" fill="#e0c2c6"/>
<rect x="32.47" y="339.69" width="0.40" height="0.93" fill="#d9b3b8"/>
<rect x="38.15" y="339.89" width="0.30" height="0.73" fill="#b87f8a"/>
<rect x="42.03" y="339.73" width="0.43" height="0.89" fill="#c08a94"/>
<rect x="47.76" y="340.32" width="0.43" height="0.30" fill="#e0c2c6"/>
<rect x="50.20" y="339.54" width="0.50" height="1.08" fill="#c99aa2"/>
<rect x="53.22" y="339.64" width="0.42" height="0.98" fill="#c99aa2"/>
<rect x="59.16" y="340.26" width="0.42" height="0.36" fill="#d9b3b8"/>
<rect x="62.90" y="340.00" width="0.38" height="0.62" fill="#d9b3b8"/>
<rect x="67.18" y="339.77" width="0.49" height="0.85" fill="#a8687a"/>
<rect x="70.08" y="340.34" width="0.44" height="0.28" fill="#e0c2c6"/>
<rect x="74.08" y="340.16" width="0.50" height="0.46" fill="#cfa5ab"/>
<rect x="78.86" y="340.08" width="0.40" height="0.54" fill="#c99aa2"/>
<rect x="83.62" y="340.12" width="0.31" height="0.50" fill="#cfa5ab"/>
<rect x="86.94" y="339.50" width="0.49" height="1.12" fill="#c99aa2"/>
<rect x="91.07" y="340.09" width="0.42" height="0.53" fill="#a8687a"/>
<rect x="96.17" y="340.11" width="0.37" height="0.51" fill="#a8687a"/>
<rect x="98.43" y="339.70" width="0.32" height="0.92" fill="#d9b3b8"/>
<rect x="102.32" y="340.14" width="0.45" height="0.48" fill="#c89aa1"/>
<rect x="108.06" y="339.96" width="0.37" height="0.66" fill="#c08a94"/>
<rect x="110.34" y="340.04" width="0.31" height="0.58" fill="#c08a94"/>
<rect x="113.20" y="339.62" width="0.48" height="1.00" fill="#cfa5ab"/>
<rect x="115.69" y="339.72" width="0.39" height="0.90" fill="#c99aa2"/>
<rect x="30.00" y="350.26" width="0.38" height="0.42" fill="#cfa5ab"/>
<rect x="32.76" y="350.19" width="0.45" height="0.49" fill="#e0c2c6"/>
<rect x="35.49" y="349.02" width="0.49" height="1.66" fill="#b87f8a"/>
<rect x="38.56" y="350.21" width="0.46" height="0.47" fill="#d9b3b8"/>
<rect x="42.39" y="350.11" width="0.39" height="0.57" fill="#a8687a"/>
<rect x="45.17" y="348.83" width="0.35" height="1.85" fill="#cfa5ab"/>
<rect x="47.18" y="349.30" width="0.39" height="1.38" fill="#e0c2c6"/>
<rect x="53.16" y="349.02" width="0.40" height="1.66" fill="#c89aa1"/>
<rect x="56.77" y="349.19" width="0.43" height="1.49" fill="#c08a94"/>
<rect x="58.95" y="350.07" width="0.44" height="0.61" fill="#d9b3b8"/>
<rect x="63.24" y="349.67" width="0.38" height="1.01" fill="#c08a94"/>
<rect x="68.16" y="349.95" width="0.42" height="0.73" fill="#c89aa1"/>
<rect x="73.57" y="349.34" width="0.40" height="1.34" fill="#b87f8a"/>
<rect x="79.27" y="349.74" width="0.43" height="0.94" fill="#d9b3b8"/>
<rect x="82.15" y="349.47" width="0.47" height="1.21" fill="#c08a94"/>
<rect x="87.11" y="349.97" width="0.47" height="0.71" fill="#d9b3b8"/>
<rect x="92.28" y="349.56" width="0.44" height="1.12" fill="#b87f8a"/>
<rect x="96.93" y="349.58" width="0.34" height="1.10" fill="#c89aa1"/>
<rect x="101.42" y="349.79" width="0.38" height="0.89" fill="#cfa5ab"/>
<rect x="105.24" y="348.87" width="0.39" height="1.81" fill="#a8687a"/>
<rect x="109.88" y="349.47" width="0.44" height="1.21" fill="#c08a94"/>
<rect x="115.42" y="349.92" width="0.31" height="0.76" fill="#c89aa1"/>
<rect x="30.00" y="359.87" width="0.49" height="0.87" fill="#a8687a"/>
<rect x="33.74" y="360.28" width="0.43" height="0.46" fill="#cfa5ab"/>
<rect x="37.90" y="360.17" width="0.50" height="0.57" fill="#c08a94"/>
<rect x="39.96" y="359.76" width="0.38" height="0.98" fill="#c99aa2"/>
<rect x="42.33" y="359.67" width="0.38" height="1.07" fill="#c99aa2"/>
<rect x="48.30" y="359.62" width="0.34" height="1.12" fill="#d9b3b8"/>
<rect x="52.29" y="360.29" width="0.31" height="0.45" fill="#c08a94"/>
<rect x="54.56" y="359.82" width="0.50" height="0.92" fill="#b87f8a"/>
<rect x="59.55" y="360.26" width="0.42" height="0.48" fill="#c08a94"/>
<rect x="63.72" y="360.37" width="0.50" height="0.37" fill="#b87f8a"/>
<rect x="68.96" y="360.48" width="0.40" height="0.26" fill="#b87f8a"/>
<rect x="73.07" y="360.34" width="0.40" height="0.40" fill="#a8687a"/>
<rect x="77.73" y="359.73" width="0.36" height="1.01" fill="#c08a94"/>
<rect x="82.43" y="360.45" width="0.32" height="0.29" fill="#a8687a"/>
<rect x="86.55" y="359.95" width="0.50" height="0.79" fill="#c99aa2"/>
<rect x="89.96" y="360.43" width="0.45" height="0.31" fill="#c99aa2"/>
<rect x="94.15" y="360.15" width="0.33" height="0.59" fill="#c89aa1"/>
<rect x="97.67" y="360.16" width="0.35" height="0.58" fill="#d9b3b8"/>
<rect x="101.82" y="360.11" width="0.38" height="0.63" fill="#c99aa2"/>
<rect x="106.33" y="359.91" width="0.47" height="0.83" fill="#c89aa1"/>
<rect x="109.04" y="360.42" width="0.32" height="0.32" fill="#d9b3b8"/>
<rect x="114.00" y="360.03" width="0.35" height="0.71" fill="#d9b3b8"/>
<rect x="30.00" y="370.24" width="0.36" height="0.56" fill="#b87f8a"/>
<rect x="34.80" y="369.72" width="0.37" height="1.08" fill="#c89aa1"/>
<rect x="40.18" y="370.53" width="0.44" height="0.27" fill="#c99aa2"/>
<rect x="44.62" y="370.35" width="0.50" height="0.45" fill="#c89aa1"/>
<rect x="49.03" y="369.94" width="0.36" height="0.86" fill="#b87f8a"/>
<rect x="54.18" y="370.39" width="0.48" height="0.41" fill="#e0c2c6"/>
<rect x="59.84" y="370.40" width="0.44" height="0.40" fill="#b87f8a"/>
<rect x="64.26" y="369.82" width="0.37" height="0.98" fill="#b87f8a"/>
<rect x="69.75" y="370.21" width="0.35" height="0.59" fill="#c89aa1"/>
<rect x="73.72" y="369.74" width="0.43" height="1.06" fill="#cfa5ab"/>
<rect x="78.78" y="369.66" width="0.44" height="1.14" fill="#d9b3b8"/>
<rect x="81.17" y="370.22" width="0.31" height="0.58" fill="#a8687a"/>
<rect x="85.57" y="370.50" width="0.47" height="0.30" fill="#cfa5ab"/>
<rect x="89.24" y="369.97" width="0.48" height="0.83" fill="#c99aa2"/>
<rect x="91.41" y="369.91" width="0.33" height="0.89" fill="#d9b3b8"/>
<rect x="95.28" y="370.02" width="0.36" height="0.78" fill="#b87f8a"/>
<rect x="98.28" y="369.67" width="0.30" height="1.13" fill="#c99aa2"/>
<rect x="101.32" y="370.26" width="0.30" height="0.54" fill="#e0c2c6"/>
<rect x="104.40" y="369.75" width="0.32" height="1.05" fill="#a8687a"/>
<rect x="109.11" y="370.04" width="0.34" height="0.76" fill="#a8687a"/>
<rect x="113.88" y="370.16" width="0.40" height="0.64" fill="#c08a94"/>
<rect x="117.33" y="370.13" width="0.35" height="0.67" fill="#c89aa1"/>
<rect x="30.00" y="380.24" width="0.36" height="0.62" fill="#d9b3b8"/>
<rect x="34.48" y="380.44" width="0.36" height="0.42" fill="#a8687a"/>
<rect x="39.25" y="380.18" width="0.45" height="0.68" fill="#c08a94"/>
<rect x="43.25" y="380.06" width="0.35" height="0.80" fill="#c89aa1"/>
<rect x="45.55" y="379.69" width="0.35" height="1.17" fill="#c08a94"/>
<rect x="49.61" y="379.79" width="0.36" height="1.07" fill="#b87f8a"/>
<rect x="55.57" y="379.67" width="0.32" height="1.19" fill="#d9b3b8"/>
<rect x="61.04" y="379.93" width="0.46" height="0.93" fill="#cfa5ab"/>
<rect x="64.83" y="379.76" width="0.50" height="1.10" fill="#d9b3b8"/>
<rect x="69.16" y="380.17" width="0.33" height="0.69" fill="#c89aa1"/>
<rect x="73.85" y="380.19" width="0.34" height="0.67" fill="#b87f8a"/>
<rect x="79.81" y="380.03" width="0.48" height="0.83" fill="#d9b3b8"/>
<rect x="82.69" y="380.41" width="0.43" height="0.45" fill="#cfa5ab"/>
<rect x="85.66" y="380.45" width="0.36" height="0.41" fill="#cfa5ab"/>
<rect x="91.57" y="380.44" width="0.34" height="0.42" fill="#c89aa1"/>
<rect x="96.60" y="380.59" width="0.31" height="0.27" fill="#e0c2c6"/>
<rect x="101.77" y="379.91" width="0.43" height="0.95" fill="#a8687a"/>
<rect x="106.35" y="379.85" width="0.50" height="1.01" fill="#e0c2c6"/>
<rect x="109.63" y="380.61" width="0.32" height="0.25" fill="#d9b3b8"/>
<rect x="115.09" y="379.78" width="0.36" height="1.08" fill="#c99aa2"/>
<rect x="25.80" y="381.52" width="1.70" height="9.40" fill="#acdfd9"/>
<rect x="26.11" y="381.52" width="0.32" height="9.40" fill="#6cc4ba"/>
<rect x="31.50" y="381.52" width="0.89" height="9.40" fill="#b8e3de"/>
<rect x="31.64" y="381.52" width="0.46" height="9.40" fill="#5cbdb3"/>
<rect x="31.98" y="381.52" width="0.42" height="9.40" fill="#ffffff"/>
<rect x="35.00" y="381.52" width="1.00" height="9.40" fill="#c4e8e4"/>
<rect x="35.35" y="381.52" width="0.28" height="9.40" fill="#ffffff"/>
<rect x="35.03" y="381.52" width="0.26" height="9.40" fill="#84cec6"/>
<rect x="40.20" y="381.52" width="1.10" height="9.40" fill="#acdfd9"/>
<rect x="40.34" y="381.52" width="0.25" height="9.40" fill="#84cec6"/>
<rect x="44.20" y="381.52" width="1.20" height="9.40" fill="#b8e3de"/>
<rect x="44.63" y="381.52" width="0.49" height="9.40" fill="#6cc4ba"/>
<rect x="47.70" y="381.52" width="1.45" height="9.40" fill="#acdfd9"/>
<rect x="48.49" y="381.52" width="0.44" height="9.40" fill="#5cbdb3"/>
<rect x="48.07" y="381.52" width="0.27" height="9.40" fill="#ffffff"/>
<rect x="49.64" y="381.52" width="0.85" height="9.40" fill="#acdfd9"/>
<rect x="49.70" y="381.52" width="0.43" height="9.40" fill="#6cc4ba"/>
<rect x="50.02" y="381.52" width="0.40" height="9.40" fill="#5cbdb3"/>
<rect x="51.18" y="381.52" width="1.12" height="9.40" fill="#c4e8e4"/>
<rect x="51.50" y="381.52" width="0.27" height="9.40" fill="#84cec6"/>
<rect x="52.79" y="381.52" width="1.04" height="9.40" fill="#c4e8e4"/>
<rect x="52.89" y="381.52" width="0.39" height="9.40" fill="#84cec6"/>
<rect x="52.85" y="381.52" width="0.25" height="9.40" fill="#ffffff"/>
<rect x="54.25" y="381.52" width="0.95" height="9.40" fill="#c4e8e4"/>
<rect x="54.48" y="381.52" width="0.45" height="9.40" fill="#ffffff"/>
<rect x="58.70" y="381.52" width="1.20" height="9.40" fill="#b8e3de"/>
<rect x="59.34" y="381.52" width="0.47" height="9.40" fill="#5cbdb3"/>
<rect x="59.43" y="381.52" width="0.26" height="9.40" fill="#ffffff"/>
<rect x="60.45" y="381.52" width="0.55" height="9.40" fill="#b8e3de"/>
<rect x="60.54" y="381.52" width="0.47" height="9.40" fill="#ffffff"/>
<rect x="65.00" y="381.52" width="0.96" height="9.40" fill="#acdfd9"/>
<rect x="65.48" y="381.52" width="0.34" height="9.40" fill="#84cec6"/>
<rect x="65.38" y="381.52" width="0.39" height="9.40" fill="#84cec6"/>
<rect x="66.80" y="381.52" width="1.19" height="9.40" fill="#c4e8e4"/>
<rect x="67.56" y="381.52" width="0.29" height="9.40" fill="#ffffff"/>
<rect x="67.19" y="381.52" width="0.27" height="9.40" fill="#5cbdb3"/>
<rect x="68.61" y="381.52" width="1.61" height="9.40" fill="#acdfd9"/>
<rect x="68.84" y="381.52" width="0.36" height="9.40" fill="#5cbdb3"/>
<rect x="68.93" y="381.52" width="0.34" height="9.40" fill="#84cec6"/>
<rect x="73.00" y="381.52" width="1.99" height="9.40" fill="#acdfd9"/>
<rect x="74.17" y="381.52" width="0.28" height="9.40" fill="#5cbdb3"/>
<rect x="74.00" y="381.52" width="0.41" height="9.40" fill="#ffffff"/>
<rect x="75.88" y="381.52" width="1.69" height="9.40" fill="#acdfd9"/>
<rect x="76.92" y="381.52" width="0.29" height="9.40" fill="#ffffff"/>
<rect x="82.50" y="381.52" width="2.11" height="9.40" fill="#c4e8e4"/>
<rect x="82.91" y="381.52" width="0.43" height="9.40" fill="#ffffff"/>
<rect x="83.42" y="381.52" width="0.40" height="9.40" fill="#6cc4ba"/>
<rect x="88.70" y="381.52" width="1.64" height="9.40" fill="#c4e8e4"/>
<rect x="89.75" y="381.52" width="0.39" height="9.40" fill="#6cc4ba"/>
<rect x="89.41" y="381.52" width="0.42" height="9.40" fill="#5cbdb3"/>
<rect x="92.50" y="381.52" width="2.11" height="9.40" fill="#acdfd9"/>
<rect x="93.67" y="381.52" width="0.39" height="9.40" fill="#ffffff"/>
<rect x="94.11" y="381.52" width="0.26" height="9.40" fill="#5cbdb3"/>
<rect x="95.24" y="381.52" width="0.94" height="9.40" fill="#b8e3de"/>
<rect x="95.53" y="381.52" width="0.28" height="9.40" fill="#84cec6"/>
<rect x="100.00" y="381.52" width="2.00" height="9.40" fill="#c4e8e4"/>
<rect x="101.42" y="381.52" width="0.39" height="9.40" fill="#84cec6"/>
<rect x="100.39" y="381.52" width="0.26" height="9.40" fill="#84cec6"/>
<rect x="106.20" y="381.52" width="1.20" height="9.40" fill="#acdfd9"/>
<rect x="106.58" y="381.52" width="0.25" height="9.40" fill="#ffffff"/>
<rect x="106.88" y="381.52" width="0.37" height="9.40" fill="#84cec6"/>
<rect x="107.88" y="381.52" width="1.17" height="9.40" fill="#c4e8e4"/>
<rect x="108.41" y="381.52" width="0.50" height="9.40" fill="#ffffff"/>
<rect x="107.94" y="381.52" width="0.40" height="9.40" fill="#ffffff"/>
<rect x="109.85" y="381.52" width="1.35" height="9.40" fill="#c4e8e4"/>
<rect x="110.50" y="381.52" width="0.46" height="9.40" fill="#5cbdb3"/>
<rect x="110.80" y="381.52" width="0.26" height="9.40" fill="#ffffff"/>
<rect x="113.70" y="381.52" width="2.15" height="9.40" fill="#c4e8e4"/>
<rect x="114.69" y="381.52" width="0.27" height="9.40" fill="#6cc4ba"/>
<rect x="116.63" y="381.52" width="0.87" height="9.40" fill="#c4e8e4"/>
<rect x="117.05" y="381.52" width="0.30" height="9.40" fill="#5cbdb3"/>
<rect x="116.63" y="381.52" width="0.29" height="9.40" fill="#6cc4ba"/>
<rect x="25.80" y="391.58" width="0.99" height="9.40" fill="#acdfd9"/>
<rect x="26.13" y="391.58" width="0.29" height="9.40" fill="#ffffff"/>
<rect x="31.50" y="391.58" width="1.20" height="9.40" fill="#b8e3de"/>
<rect x="32.06" y="391.58" width="0.36" height="9.40" fill="#5cbdb3"/>
<rect x="31.59" y="391.58" width="0.26" height="9.40" fill="#ffffff"/>
<rect x="35.00" y="391.58" width="1.00" height="9.40" fill="#b8e3de"/>
<rect x="35.55" y="391.58" width="0.29" height="9.40" fill="#ffffff"/>
<rect x="40.20" y="391.58" width="1.10" height="9.40" fill="#acdfd9"/>
<rect x="40.49" y="391.58" width="0.29" height="9.40" fill="#ffffff"/>
<rect x="44.20" y="391.58" width="1.20" height="9.40" fill="#b8e3de"/>
<rect x="44.31" y="391.58" width="0.39" height="9.40" fill="#84cec6"/>
<rect x="47.70" y="391.58" width="1.15" height="9.40" fill="#c4e8e4"/>
<rect x="48.15" y="391.58" width="0.32" height="9.40" fill="#6cc4ba"/>
<rect x="49.42" y="391.58" width="1.39" height="9.40" fill="#acdfd9"/>
<rect x="49.87" y="391.58" width="0.28" height="9.40" fill="#5cbdb3"/>
<rect x="51.32" y="391.58" width="1.14" height="9.40" fill="#acdfd9"/>
<rect x="51.59" y="391.58" width="0.34" height="9.40" fill="#6cc4ba"/>
<rect x="51.49" y="391.58" width="0.40" height="9.40" fill="#6cc4ba"/>
<rect x="52.93" y="391.58" width="1.78" height="9.40" fill="#acdfd9"/>
<rect x="53.49" y="391.58" width="0.41" height="9.40" fill="#ffffff"/>
<rect x="54.19" y="391.58" width="0.45" height="9.40" fill="#5cbdb3"/>
<rect x="58.70" y="391.58" width="1.29" height="9.40" fill="#c4e8e4"/>
<rect x="59.45" y="391.58" width="0.35" height="9.40" fill="#5cbdb3"/>
<rect x="60.52" y="391.58" width="0.48" height="9.40" fill="#b8e3de"/>
<rect x="60.57" y="391.58" width="0.41" height="9.40" fill="#6cc4ba"/>
<rect x="60.60" y="391.58" width="0.38" height="9.40" fill="#5cbdb3"/>
<rect x="65.00" y="391.58" width="1.89" height="9.40" fill="#b8e3de"/>
<rect x="65.53" y="391.58" width="0.37" height="9.40" fill="#6cc4ba"/>
<rect x="67.69" y="391.58" width="2.11" height="9.40" fill="#c4e8e4"/>
<rect x="67.74" y="391.58" width="0.41" height="9.40" fill="#ffffff"/>
<rect x="68.54" y="391.58" width="0.25" height="9.40" fill="#ffffff"/>
<rect x="70.23" y="391.58" width="0.57" height="9.40" fill="#b8e3de"/>
<rect x="70.31" y="391.58" width="0.40" height="9.40" fill="#ffffff"/>
<rect x="73.00" y="391.58" width="1.52" height="9.40" fill="#c4e8e4"/>
<rect x="73.40" y="391.58" width="0.48" height="9.40" fill="#84cec6"/>
<rect x="74.98" y="391.58" width="1.28" height="9.40" fill="#b8e3de"/>
<rect x="75.43" y="391.58" width="0.29" height="9.40" fill="#84cec6"/>
<rect x="76.74" y="391.58" width="1.76" height="9.40" fill="#c4e8e4"/>
<rect x="77.77" y="391.58" width="0.41" height="9.40" fill="#ffffff"/>
<rect x="82.50" y="391.58" width="1.24" height="9.40" fill="#acdfd9"/>
<rect x="83.18" y="391.58" width="0.44" height="9.40" fill="#84cec6"/>
<rect x="82.98" y="391.58" width="0.45" height="9.40" fill="#ffffff"/>
<rect x="84.18" y="391.58" width="0.82" height="9.40" fill="#b8e3de"/>
<rect x="84.23" y="391.58" width="0.29" height="9.40" fill="#6cc4ba"/>
<rect x="84.42" y="391.58" width="0.32" height="9.40" fill="#84cec6"/>
<rect x="88.70" y="391.58" width="1.98" height="9.40" fill="#b8e3de"/>
<rect x="89.57" y="391.58" width="0.27" height="9.40" fill="#6cc4ba"/>
<rect x="88.81" y="391.58" width="0.32" height="9.40" fill="#84cec6"/>
<rect x="92.50" y="391.58" width="1.05" height="9.40" fill="#acdfd9"/>
<rect x="92.78" y="391.58" width="0.26" height="9.40" fill="#5cbdb3"/>
<rect x="94.29" y="391.58" width="0.95" height="9.40" fill="#b8e3de"/>
<rect x="94.29" y="391.58" width="0.50" height="9.40" fill="#ffffff"/>
<rect x="94.64" y="391.58" width="0.37" height="9.40" fill="#ffffff"/>
<rect x="95.73" y="391.58" width="0.47" height="9.40" fill="#acdfd9"/>
<rect x="95.78" y="391.58" width="0.34" height="9.40" fill="#ffffff"/>
<rect x="100.00" y="391.58" width="2.06" height="9.40" fill="#c4e8e4"/>
<rect x="101.51" y="391.58" width="0.27" height="9.40" fill="#ffffff"/>
<rect x="106.20" y="391.58" width="1.81" height="9.40" fill="#c4e8e4"/>
<rect x="106.24" y="391.58" width="0.44" height="9.40" fill="#ffffff"/>
<rect x="106.91" y="391.58" width="0.49" height="9.40" fill="#ffffff"/>
<rect x="108.89" y="391.58" width="1.78" height="9.40" fill="#acdfd9"/>
<rect x="109.67" y="391.58" width="0.48" height="9.40" fill="#84cec6"/>
<rect x="109.00" y="391.58" width="0.36" height="9.40" fill="#6cc4ba"/>
<rect x="113.70" y="391.58" width="0.84" height="9.40" fill="#c4e8e4"/>
<rect x="113.84" y="391.58" width="0.28" height="9.40" fill="#84cec6"/>
<rect x="115.29" y="391.58" width="1.67" height="9.40" fill="#b8e3de"/>
<rect x="115.72" y="391.58" width="0.36" height="9.40" fill="#6cc4ba"/>
<rect x="25.80" y="401.64" width="1.70" height="9.40" fill="#b8e3de"/>
<rect x="26.29" y="401.64" width="0.37" height="9.40" fill="#5cbdb3"/>
<rect x="31.50" y="401.64" width="1.20" height="9.40" fill="#c4e8e4"/>
<rect x="31.88" y="401.64" width="0.45" height="9.40" fill="#ffffff"/>
<rect x="35.00" y="401.64" width="0.89" height="9.40" fill="#c4e8e4"/>
<rect x="35.08" y="401.64" width="0.50" height="9.40" fill="#6cc4ba"/>
<rect x="40.20" y="401.64" width="1.10" height="9.40" fill="#c4e8e4"/>
<rect x="40.79" y="401.64" width="0.42" height="9.40" fill="#6cc4ba"/>
<rect x="44.20" y="401.64" width="1.20" height="9.40" fill="#b8e3de"/>
<rect x="44.44" y="401.64" width="0.48" height="9.40" fill="#ffffff"/>
<rect x="47.70" y="401.64" width="0.91" height="9.40" fill="#c4e8e4"/>
<rect x="47.91" y="401.64" width="0.35" height="9.40" fill="#84cec6"/>
<rect x="49.18" y="401.64" width="1.12" height="9.40" fill="#b8e3de"/>
<rect x="49.47" y="401.64" width="0.39" height="9.40" fill="#ffffff"/>
<rect x="49.84" y="401.64" width="0.38" height="9.40" fill="#ffffff"/>
<rect x="50.70" y="401.64" width="1.74" height="9.40" fill="#c4e8e4"/>
<rect x="50.83" y="401.64" width="0.41" height="9.40" fill="#5cbdb3"/>
<rect x="51.10" y="401.64" width="0.32" height="9.40" fill="#5cbdb3"/>
<rect x="52.97" y="401.64" width="1.93" height="9.40" fill="#acdfd9"/>
<rect x="53.52" y="401.64" width="0.36" height="9.40" fill="#84cec6"/>
<rect x="58.70" y="401.64" width="1.39" height="9.40" fill="#acdfd9"/>
<rect x="58.80" y="401.64" width="0.35" height="9.40" fill="#ffffff"/>
<rect x="59.20" y="401.64" width="0.45" height="9.40" fill="#6cc4ba"/>
<rect x="65.00" y="401.64" width="1.45" height="9.40" fill="#acdfd9"/>
<rect x="65.87" y="401.64" width="0.46" height="9.40" fill="#84cec6"/>
<rect x="67.15" y="401.64" width="2.07" height="9.40" fill="#c4e8e4"/>
<rect x="67.77" y="401.64" width="0.49" height="9.40" fill="#6cc4ba"/>
<rect x="70.07" y="401.64" width="0.73" height="9.40" fill="#c4e8e4"/>
<rect x="70.31" y="401.64" width="0.33" height="9.40" fill="#ffffff"/>
<rect x="73.00" y="401.64" width="1.11" height="9.40" fill="#acdfd9"/>
<rect x="73.69" y="401.64" width="0.35" height="9.40" fill="#ffffff"/>
<rect x="73.52" y="401.64" width="0.27" height="9.40" fill="#84cec6"/>
<rect x="74.55" y="401.64" width="1.42" height="9.40" fill="#b8e3de"/>
<rect x="75.14" y="401.64" width="0.35" height="9.40" fill="#ffffff"/>
<rect x="76.43" y="401.64" width="1.42" height="9.40" fill="#acdfd9"/>
<rect x="76.62" y="401.64" width="0.35" height="9.40" fill="#84cec6"/>
<rect x="82.50" y="401.64" width="1.41" height="9.40" fill="#b8e3de"/>
<rect x="83.21" y="401.64" width="0.30" height="9.40" fill="#ffffff"/>
<rect x="84.61" y="401.64" width="0.39" height="9.40" fill="#c4e8e4"/>
<rect x="84.61" y="401.64" width="0.48" height="9.40" fill="#5cbdb3"/>
<rect x="88.70" y="401.64" width="0.94" height="9.40" fill="#b8e3de"/>
<rect x="89.00" y="401.64" width="0.36" height="9.40" fill="#ffffff"/>
<rect x="89.22" y="401.64" width="0.43" height="9.40" fill="#ffffff"/>
<rect x="90.10" y="401.64" width="1.10" height="9.40" fill="#c4e8e4"/>
<rect x="90.62" y="401.64" width="0.28" height="9.40" fill="#ffffff"/>
<rect x="90.78" y="401.64" width="0.30" height="9.40" fill="#6cc4ba"/>
<rect x="92.50" y="401.64" width="0.96" height="9.40" fill="#acdfd9"/>
<rect x="92.98" y="401.64" width="0.46" height="9.40" fill="#84cec6"/>
<rect x="92.88" y="401.64" width="0.47" height="9.40" fill="#5cbdb3"/>
<rect x="93.88" y="401.64" width="0.89" height="9.40" fill="#c4e8e4"/>
<rect x="94.32" y="401.64" width="0.50" height="9.40" fill="#ffffff"/>
<rect x="95.60" y="401.64" width="0.60" height="9.40" fill="#c4e8e4"/>
<rect x="95.61" y="401.64" width="0.50" height="9.40" fill="#ffffff"/>
<rect x="95.74" y="401.64" width="0.45" height="9.40" fill="#ffffff"/>
<rect x="100.00" y="401.64" width="1.01" height="9.40" fill="#acdfd9"/>
<rect x="100.10" y="401.64" width="0.50" height="9.40" fill="#6cc4ba"/>
<rect x="101.83" y="401.64" width="0.67" height="9.40" fill="#acdfd9"/>
<rect x="102.01" y="401.64" width="0.26" height="9.40" fill="#84cec6"/>
<rect x="106.20" y="401.64" width="1.23" height="9.40" fill="#b8e3de"/>
<rect x="106.73" y="401.64" width="0.34" height="9.40" fill="#5cbdb3"/>
<rect x="106.90" y="401.64" width="0.39" height="9.40" fill="#5cbdb3"/>
<rect x="108.16" y="401.64" width="1.65" height="9.40" fill="#c4e8e4"/>
<rect x="109.13" y="401.64" width="0.40" height="9.40" fill="#84cec6"/>
<rect x="108.96" y="401.64" width="0.47" height="9.40" fill="#84cec6"/>
<rect x="110.39" y="401.64" width="0.81" height="9.40" fill="#c4e8e4"/>
<rect x="110.79" y="401.64" width="0.40" height="9.40" fill="#5cbdb3"/>
<rect x="110.71" y="401.64" width="0.50" height="9.40" fill="#ffffff"/>
<rect x="113.70" y="401.64" width="1.69" height="9.40" fill="#acdfd9"/>
<rect x="114.88" y="401.64" width="0.27" height="9.40" fill="#84cec6"/>
<rect x="114.21" y="401.64" width="0.32" height="9.40" fill="#5cbdb3"/>
<rect x="116.08" y="401.64" width="1.42" height="9.40" fill="#b8e3de"/>
<rect x="116.44" y="401.64" width="0.26" height="9.40" fill="#84cec6"/>
<rect x="117.08" y="401.64" width="0.30" height="9.40" fill="#84cec6"/>
<rect x="160.40" y="323.56" width="0.56" height="7.00" fill="#a8687a"/>
<rect x="170.00" y="324.59" width="0.86" height="5.97" fill="#dcb8b6"/>
<rect x="170.12" y="324.59" width="0.38" height="5.97" fill="#a87072"/>
<rect x="170.19" y="324.59" width="0.47" height="5.97" fill="#f3e3e3"/>
<rect x="170.40" y="324.59" width="0.44" height="5.97" fill="#a87072"/>
<rect x="171.27" y="325.77" width="0.82" height="4.79" fill="#dcb8b6"/>
<rect x="171.33" y="325.77" width="0.39" height="4.79" fill="#ffffff"/>
<rect x="171.52" y="325.77" width="0.28" height="4.79" fill="#9a6064"/>
<rect x="171.48" y="325.77" width="0.32" height="4.79" fill="#ffffff"/>
<rect x="173.50" y="324.05" width="0.66" height="6.51" fill="#c99c9c"/>
<rect x="173.56" y="324.05" width="0.33" height="6.51" fill="#ffffff"/>
<rect x="174.56" y="323.34" width="1.20" height="7.22" fill="#d4aaa8"/>
<rect x="175.29" y="323.34" width="0.31" height="7.22" fill="#9a6064"/>
<rect x="174.63" y="323.34" width="0.40" height="7.22" fill="#a87072"/>
<rect x="174.94" y="323.34" width="0.38" height="7.22" fill="#f3e3e3"/>
<rect x="177.50" y="324.31" width="1.25" height="6.25" fill="#d4aaa8"/>
<rect x="178.22" y="324.31" width="0.44" height="6.25" fill="#ffffff"/>
<rect x="179.31" y="324.71" width="1.05" height="5.85" fill="#c99c9c"/>
<rect x="179.73" y="324.71" width="0.25" height="5.85" fill="#ffffff"/>
<rect x="181.50" y="323.90" width="0.70" height="6.66" fill="#dcb8b6"/>
<rect x="181.60" y="323.90" width="0.44" height="6.66" fill="#f3e3e3"/>
<rect x="181.63" y="323.90" width="0.38" height="6.66" fill="#9a6064"/>
<rect x="182.76" y="325.18" width="1.22" height="5.38" fill="#d4aaa8"/>
<rect x="183.06" y="325.18" width="0.30" height="5.38" fill="#a87072"/>
<rect x="182.85" y="325.18" width="0.27" height="5.38" fill="#ffffff"/>
<rect x="184.30" y="325.91" width="0.75" height="4.65" fill="#dcb8b6"/>
<rect x="184.52" y="325.91" width="0.49" height="4.65" fill="#9a6064"/>
<rect x="184.40" y="325.91" width="0.27" height="4.65" fill="#a87072"/>
<rect x="185.39" y="324.58" width="0.61" height="5.98" fill="#c99c9c"/>
<rect x="185.47" y="324.58" width="0.49" height="5.98" fill="#9a6064"/>
<rect x="185.46" y="324.58" width="0.30" height="5.98" fill="#ffffff"/>
<rect x="187.50" y="324.23" width="0.63" height="6.33" fill="#dcb8b6"/>
<rect x="187.56" y="324.23" width="0.28" height="6.33" fill="#9a6064"/>
<rect x="188.63" y="323.88" width="1.35" height="6.68" fill="#d4aaa8"/>
<rect x="188.78" y="323.88" width="0.49" height="6.68" fill="#a87072"/>
<rect x="189.51" y="323.88" width="0.39" height="6.68" fill="#a87072"/>
<rect x="192.00" y="325.41" width="1.37" height="5.15" fill="#d4aaa8"/>
<rect x="192.66" y="325.41" width="0.25" height="5.15" fill="#9a6064"/>
<rect x="192.84" y="325.41" width="0.47" height="5.15" fill="#a87072"/>
<rect x="195.00" y="324.21" width="0.99" height="6.35" fill="#dcb8b6"/>
<rect x="195.06" y="324.21" width="0.38" height="6.35" fill="#a87072"/>
<rect x="196.33" y="323.84" width="0.69" height="6.72" fill="#c99c9c"/>
<rect x="196.40" y="323.84" width="0.35" height="6.72" fill="#9a6064"/>
<rect x="197.32" y="324.45" width="1.10" height="6.11" fill="#dcb8b6"/>
<rect x="197.98" y="324.45" width="0.42" height="6.11" fill="#f3e3e3"/>
<rect x="198.00" y="324.45" width="0.28" height="6.11" fill="#9a6064"/>
<rect x="198.78" y="324.53" width="0.62" height="6.03" fill="#c99c9c"/>
<rect x="198.97" y="324.53" width="0.38" height="6.03" fill="#a87072"/>
<rect x="198.99" y="324.53" width="0.46" height="6.03" fill="#ffffff"/>
<rect x="170.00" y="335.23" width="0.74" height="5.39" fill="#c99c9c"/>
<rect x="170.07" y="335.23" width="0.25" height="5.39" fill="#f3e3e3"/>
<rect x="170.16" y="335.23" width="0.34" height="5.39" fill="#ffffff"/>
<rect x="170.14" y="335.23" width="0.49" height="5.39" fill="#a87072"/>
<rect x="171.07" y="334.03" width="0.68" height="6.59" fill="#dcb8b6"/>
<rect x="171.11" y="334.03" width="0.33" height="6.59" fill="#f3e3e3"/>
<rect x="171.18" y="334.03" width="0.38" height="6.59" fill="#f3e3e3"/>
<rect x="171.26" y="334.03" width="0.45" height="6.59" fill="#ffffff"/>
<rect x="172.23" y="334.26" width="0.71" height="6.36" fill="#dcb8b6"/>
<rect x="172.33" y="334.26" width="0.30" height="6.36" fill="#ffffff"/>
<rect x="173.39" y="333.15" width="0.88" height="7.47" fill="#c99c9c"/>
<rect x="173.60" y="333.15" width="0.47" height="7.47" fill="#9a6064"/>
<rect x="173.76" y="333.15" width="0.47" height="7.47" fill="#9a6064"/>
<rect x="170.00" y="343.22" width="0.93" height="7.46" fill="#dcb8b6"/>
<rect x="170.33" y="343.22" width="0.39" height="7.46" fill="#a87072"/>
<rect x="170.19" y="343.22" width="0.50" height="7.46" fill="#ffffff"/>
<rect x="170.25" y="343.22" width="0.30" height="7.46" fill="#a87072"/>
<rect x="171.40" y="344.86" width="0.87" height="5.82" fill="#d4aaa8"/>
<rect x="171.67" y="344.86" width="0.35" height="5.82" fill="#f3e3e3"/>
<rect x="172.71" y="345.77" width="1.03" height="4.91" fill="#dcb8b6"/>
<rect x="173.13" y="345.77" width="0.28" height="4.91" fill="#a87072"/>
<rect x="174.21" y="343.58" width="0.49" height="7.10" fill="#dcb8b6"/>
<rect x="174.22" y="343.58" width="0.32" height="7.10" fill="#a87072"/>
<rect x="174.21" y="343.58" width="0.34" height="7.10" fill="#a87072"/>
<rect x="174.29" y="343.58" width="0.49" height="7.10" fill="#a87072"/>
<rect x="190.50" y="344.50" width="0.63" height="6.18" fill="#c99c9c"/>
<rect x="190.55" y="344.50" width="0.30" height="6.18" fill="#a87072"/>
<rect x="190.59" y="344.50" width="0.27" height="6.18" fill="#ffffff"/>
<rect x="190.54" y="344.50" width="0.25" height="6.18" fill="#9a6064"/>
<rect x="160.20" y="352.74" width="0.71" height="8.00" fill="#5e1530"/>
<rect x="161.16" y="352.74" width="0.04" height="8.00" fill="#782840"/>
<rect x="170.00" y="359.24" width="0.56" height="1.50" fill="#5e1530"/>
<rect x="171.34" y="359.24" width="0.47" height="1.50" fill="#6a1a34"/>
<rect x="172.96" y="359.24" width="0.33" height="1.50" fill="#782840"/>
<rect x="174.44" y="359.24" width="0.33" height="1.50" fill="#782840"/>
<rect x="177.23" y="359.24" width="0.44" height="1.50" fill="#6a1a34"/>
<rect x="179.89" y="359.24" width="0.55" height="1.50" fill="#782840"/>
<rect x="182.14" y="359.24" width="0.47" height="1.50" fill="#853652"/>
<rect x="184.34" y="359.24" width="0.39" height="1.50" fill="#853652"/>
<rect x="187.07" y="359.24" width="0.52" height="1.50" fill="#6a1a34"/>
<rect x="188.56" y="359.24" width="0.34" height="1.50" fill="#5e1530"/>
<rect x="190.59" y="359.24" width="0.48" height="1.50" fill="#782840"/>
<rect x="192.71" y="359.24" width="0.47" height="1.50" fill="#6a1a34"/>
<rect x="194.86" y="359.24" width="0.39" height="1.50" fill="#5e1530"/>
<rect x="195.90" y="359.24" width="0.42" height="1.50" fill="#853652"/>
<rect x="197.26" y="359.24" width="0.54" height="1.50" fill="#782840"/>
<rect x="168.00" y="370.00" width="0.47" height="0.80" fill="#c99aa2"/>
<rect x="170.36" y="370.00" width="0.44" height="0.80" fill="#a8687a"/>
<rect x="173.30" y="370.00" width="0.33" height="0.80" fill="#b87f8a"/>
<rect x="175.85" y="370.00" width="0.32" height="0.80" fill="#c08a94"/>
<rect x="179.09" y="370.00" width="0.41" height="0.80" fill="#c08a94"/>
<rect x="181.70" y="370.00" width="0.45" height="0.80" fill="#b87f8a"/>
<rect x="184.41" y="370.00" width="0.33" height="0.80" fill="#c08a94"/>
<rect x="187.66" y="370.00" width="0.38" height="0.80" fill="#c99aa2"/>
<rect x="190.29" y="370.00" width="0.45" height="0.80" fill="#b87f8a"/>
<rect x="193.86" y="370.00" width="0.39" height="0.80" fill="#c08a94"/>
<rect x="197.19" y="370.00" width="0.41" height="0.80" fill="#c99aa2"/>
<rect x="170.00" y="378.36" width="0.88" height="2.50" fill="#5e1530"/>
<rect x="170.80" y="378.36" width="0.71" height="2.50" fill="#6a1a34"/>
<rect x="171.84" y="378.36" width="0.16" height="2.50" fill="#5e1530"/>
<rect x="160.40" y="391.04" width="0.51" height="20.00" fill="#5bbbb2"/>
<rect x="161.00" y="391.04" width="0.10" height="20.00" fill="#5bbbb2"/>
<rect x="170.00" y="381.52" width="1.74" height="9.40" fill="#c4e8e4"/>
<rect x="170.59" y="381.52" width="0.47" height="9.40" fill="#5cbdb3"/>
<rect x="170.82" y="381.52" width="0.50" height="9.40" fill="#84cec6"/>
<rect x="172.14" y="381.52" width="1.48" height="9.40" fill="#b8e3de"/>
<rect x="172.51" y="381.52" width="0.38" height="9.40" fill="#84cec6"/>
<rect x="172.19" y="381.52" width="0.41" height="9.40" fill="#ffffff"/>
<rect x="174.19" y="381.52" width="1.39" height="9.40" fill="#b8e3de"/>
<rect x="174.42" y="381.52" width="0.34" height="9.40" fill="#ffffff"/>
<rect x="174.66" y="381.52" width="0.41" height="9.40" fill="#6cc4ba"/>
<rect x="179.40" y="381.52" width="1.97" height="9.40" fill="#c4e8e4"/>
<rect x="179.80" y="381.52" width="0.43" height="9.40" fill="#ffffff"/>
<rect x="180.18" y="381.52" width="0.50" height="9.40" fill="#84cec6"/>
<rect x="182.20" y="381.52" width="1.12" height="9.40" fill="#c4e8e4"/>
<rect x="182.49" y="381.52" width="0.39" height="9.40" fill="#84cec6"/>
<rect x="182.86" y="381.52" width="0.36" height="9.40" fill="#6cc4ba"/>
<rect x="184.19" y="381.52" width="1.11" height="9.40" fill="#b8e3de"/>
<rect x="184.57" y="381.52" width="0.47" height="9.40" fill="#ffffff"/>
<rect x="188.80" y="381.52" width="1.75" height="9.40" fill="#b8e3de"/>
<rect x="188.83" y="381.52" width="0.29" height="9.40" fill="#5cbdb3"/>
<rect x="189.72" y="381.52" width="0.35" height="9.40" fill="#ffffff"/>
<rect x="191.19" y="381.52" width="1.21" height="9.40" fill="#b8e3de"/>
<rect x="191.93" y="381.52" width="0.42" height="9.40" fill="#6cc4ba"/>
<rect x="194.70" y="381.52" width="1.23" height="9.40" fill="#c4e8e4"/>
<rect x="195.10" y="381.52" width="0.30" height="9.40" fill="#ffffff"/>
<rect x="195.33" y="381.52" width="0.37" height="9.40" fill="#6cc4ba"/>
<rect x="196.63" y="381.52" width="0.91" height="9.40" fill="#b8e3de"/>
<rect x="196.89" y="381.52" width="0.42" height="9.40" fill="#6cc4ba"/>
<rect x="196.63" y="381.52" width="0.48" height="9.40" fill="#ffffff"/>
<rect x="198.31" y="381.52" width="1.09" height="9.40" fill="#c4e8e4"/>
<rect x="198.45" y="381.52" width="0.41" height="9.40" fill="#ffffff"/>
<rect x="198.37" y="381.52" width="0.41" height="9.40" fill="#5cbdb3"/>
<rect x="170.00" y="391.58" width="0.93" height="9.40" fill="#b8e3de"/>
<rect x="170.47" y="391.58" width="0.45" height="9.40" fill="#84cec6"/>
<rect x="171.55" y="391.58" width="0.98" height="9.40" fill="#acdfd9"/>
<rect x="171.81" y="391.58" width="0.38" height="9.40" fill="#ffffff"/>
<rect x="173.32" y="391.58" width="1.10" height="9.40" fill="#b8e3de"/>
<rect x="173.38" y="391.58" width="0.31" height="9.40" fill="#84cec6"/>
<rect x="175.10" y="391.58" width="0.80" height="9.40" fill="#c4e8e4"/>
<rect x="175.21" y="391.58" width="0.25" height="9.40" fill="#ffffff"/>
<rect x="175.21" y="391.58" width="0.35" height="9.40" fill="#ffffff"/>
<rect x="179.40" y="391.58" width="1.18" height="9.40" fill="#c4e8e4"/>
<rect x="179.57" y="391.58" width="0.34" height="9.40" fill="#ffffff"/>
<rect x="179.63" y="391.58" width="0.46" height="9.40" fill="#ffffff"/>
<rect x="181.35" y="391.58" width="1.10" height="9.40" fill="#b8e3de"/>
<rect x="181.77" y="391.58" width="0.36" height="9.40" fill="#84cec6"/>
<rect x="181.65" y="391.58" width="0.45" height="9.40" fill="#84cec6"/>
<rect x="183.21" y="391.58" width="1.39" height="9.40" fill="#c4e8e4"/>
<rect x="184.15" y="391.58" width="0.37" height="9.40" fill="#ffffff"/>
<rect x="183.36" y="391.58" width="0.41" height="9.40" fill="#5cbdb3"/>
<rect x="188.80" y="391.58" width="1.81" height="9.40" fill="#b8e3de"/>
<rect x="189.32" y="391.58" width="0.25" height="9.40" fill="#ffffff"/>
<rect x="189.74" y="391.58" width="0.26" height="9.40" fill="#ffffff"/>
<rect x="191.05" y="391.58" width="1.08" height="9.40" fill="#b8e3de"/>
<rect x="191.39" y="391.58" width="0.45" height="9.40" fill="#84cec6"/>
<rect x="191.17" y="391.58" width="0.38" height="9.40" fill="#6cc4ba"/>
<rect x="194.70" y="391.58" width="1.03" height="9.40" fill="#acdfd9"/>
<rect x="194.99" y="391.58" width="0.41" height="9.40" fill="#84cec6"/>
<rect x="195.06" y="391.58" width="0.37" height="9.40" fill="#ffffff"/>
<rect x="196.55" y="391.58" width="1.44" height="9.40" fill="#b8e3de"/>
<rect x="197.15" y="391.58" width="0.27" height="9.40" fill="#ffffff"/>
<rect x="198.51" y="391.58" width="0.89" height="9.40" fill="#acdfd9"/>
<rect x="198.72" y="391.58" width="0.31" height="9.40" fill="#ffffff"/>
<rect x="198.95" y="391.58" width="0.25" height="9.40" fill="#6cc4ba"/>
<rect x="170.00" y="401.64" width="1.18" height="9.40" fill="#c4e8e4"/>
<rect x="170.60" y="401.64" width="0.45" height="9.40" fill="#84cec6"/>
<rect x="172.06" y="401.64" width="1.34" height="9.40" fill="#acdfd9"/>
<rect x="172.36" y="401.64" width="0.46" height="9.40" fill="#ffffff"/>
<rect x="172.28" y="401.64" width="0.45" height="9.40" fill="#ffffff"/>
<rect x="173.98" y="401.64" width="0.81" height="9.40" fill="#c4e8e4"/>
<rect x="174.01" y="401.64" width="0.50" height="9.40" fill="#5cbdb3"/>
<rect x="175.59" y="401.64" width="0.31" height="9.40" fill="#b8e3de"/>
<rect x="175.51" y="401.64" width="0.34" height="9.40" fill="#84cec6"/>
<rect x="179.40" y="401.64" width="1.80" height="9.40" fill="#acdfd9"/>
<rect x="180.46" y="401.64" width="0.31" height="9.40" fill="#ffffff"/>
<rect x="182.01" y="401.64" width="1.15" height="9.40" fill="#b8e3de"/>
<rect x="182.20" y="401.64" width="0.26" height="9.40" fill="#84cec6"/>
<rect x="182.46" y="401.64" width="0.41" height="9.40" fill="#84cec6"/>
<rect x="183.77" y="401.64" width="1.53" height="9.40" fill="#acdfd9"/>
<rect x="184.36" y="401.64" width="0.44" height="9.40" fill="#5cbdb3"/>
<rect x="188.80" y="401.64" width="1.95" height="9.40" fill="#b8e3de"/>
<rect x="189.52" y="401.64" width="0.30" height="9.40" fill="#84cec6"/>
<rect x="189.77" y="401.64" width="0.46" height="9.40" fill="#84cec6"/>
<rect x="191.28" y="401.64" width="1.12" height="9.40" fill="#b8e3de"/>
<rect x="191.68" y="401.64" width="0.35" height="9.40" fill="#ffffff"/>
<rect x="191.42" y="401.64" width="0.35" height="9.40" fill="#84cec6"/>
<rect x="194.70" y="401.64" width="1.64" height="9.40" fill="#b8e3de"/>
<rect x="195.52" y="401.64" width="0.32" height="9.40" fill="#ffffff"/>
<rect x="195.63" y="401.64" width="0.43" height="9.40" fill="#6cc4ba"/>
<rect x="197.22" y="401.64" width="1.62" height="9.40" fill="#acdfd9"/>
<rect x="197.41" y="401.64" width="0.35" height="9.40" fill="#ffffff"/>
<rect x="236.5" y="17.5" width="116.0" height="129.0" fill="#fff"/>
<line x1="272.0" y1="17.5" x2="272.0" y2="146.5" stroke="#f4f4f4" stroke-width="0.4"/>
<line x1="302.0" y1="17.5" x2="302.0" y2="146.5" stroke="#f4f4f4" stroke-width="0.4"/>
<line x1="332.0" y1="17.5" x2="332.0" y2="146.5" stroke="#f4f4f4" stroke-width="0.4"/>
<line x1="236.5" y1="35.0" x2="352.5" y2="35.0" stroke="#f4f4f4" stroke-width="0.4"/>
<line x1="236.5" y1="65.0" x2="352.5" y2="65.0" stroke="#f4f4f4" stroke-width="0.4"/>
<line x1="236.5" y1="95.0" x2="352.5" y2="95.0" stroke="#f4f4f4" stroke-width="0.4"/>
<line x1="236.5" y1="125.0" x2="352.5" y2="125.0" stroke="#f4f4f4" stroke-width="0.4"/>
<line x1="257" y1="17.5" x2="257" y2="146.5" stroke="#ececec" stroke-width="0.6"/>
<line x1="287" y1="17.5" x2="287" y2="146.5" stroke="#ececec" stroke-width="0.6"/>
<line x1="317" y1="17.5" x2="317" y2="146.5" stroke="#ececec" stroke-width="0.6"/>
<line x1="347" y1="17.5" x2="347" y2="146.5" stroke="#ececec" stroke-width="0.6"/>
<line x1="236.5" y1="20" x2="352.5" y2="20" stroke="#ececec" stroke-width="0.6"/>
<line x1="236.5" y1="50" x2="352.5" y2="50" stroke="#ececec" stroke-width="0.6"/>
<line x1="236.5" y1="80" x2="352.5" y2="80" stroke="#ececec" stroke-width="0.6"/>
<line x1="236.5" y1="110" x2="352.5" y2="110" stroke="#ececec" stroke-width="0.6"/>
<line x1="236.5" y1="140" x2="352.5" y2="140" stroke="#ececec" stroke-width="0.6"/>
<clipPath id="cl"><rect x="236" y="17" width="116.8" height="129.5"/></clipPath>
<clipPath id="cr"><rect x="371.2" y="17" width="147.3" height="129"/></clipPath>
<g clip-path="url(#cl)"><circle cx="241" cy="70" r="8" fill="#4a72a0" fill-opacity="0.6" stroke="#3e6a92" stroke-width="0.5"/><circle cx="257.3" cy="71.8" r="10.5" fill="#5a80a8" fill-opacity="0.6" stroke="#3e6a92" stroke-width="0.5"/><circle cx="273.3" cy="74" r="10" fill="#7a98b8" fill-opacity="0.55" stroke="#5a7898" stroke-width="0.5"/><circle cx="244.9" cy="64.6" r="7.5" fill="#2f5a85" fill-opacity="0.7" stroke="#23476a" stroke-width="0.5"/><circle cx="242.7" cy="76.2" r="6" fill="#2f4f70" fill-opacity="0.6"/><circle cx="250" cy="80" r="6" fill="#4a72a0" fill-opacity="0.5"/><circle cx="265" cy="68" r="6" fill="#3f6890" fill-opacity="0.5"/><circle cx="280" cy="78" r="6" fill="#9ab0c8" fill-opacity="0.5"/><circle cx="256.6" cy="93" r="8.5" fill="#557aa0" fill-opacity="0.75" stroke="#3e6a92" stroke-width="0.5"/><circle cx="285.7" cy="95.1" r="3.7" fill="#8aa5c0" fill-opacity="0.8" stroke="#3e6a92" stroke-width="0.5"/><circle cx="329.5" cy="20.8" r="8" fill="#6a9cc5" fill-opacity="0.7" stroke="#3e6a92" stroke-width="0.5"/><circle cx="327.2" cy="38" r="11.5" fill="#8f9163" fill-opacity="0.7" stroke="#5a5a3a" stroke-width="0.5"/><circle cx="320.2" cy="26.5" r="11" fill="#4d4d2e" fill-opacity="0.75" stroke="#333" stroke-width="0.5"/><circle cx="300.5" cy="52.5" r="7.6" fill="#6a6a5a" fill-opacity="0.8" stroke="#444" stroke-width="0.5"/><circle cx="297" cy="50" r="2.2" fill="#2a2a20" fill-opacity="0.7"/><circle cx="321.9" cy="52.6" r="3.5" fill="#6a9cc5" fill-opacity="0.8" stroke="#3e6a92" stroke-width="0.5"/><circle cx="329" cy="57.7" r="4.5" fill="#5f8db5" fill-opacity="0.8" stroke="#3e6a92" stroke-width="0.5"/><circle cx="317.2" cy="57" r="1.4" fill="#555" fill-opacity="0.9"/><circle cx="326" cy="64" r="2.2" fill="#5a5a30" fill-opacity="0.9"/><circle cx="327.2" cy="74.5" r="9" fill="#5b7c9a" fill-opacity="0.75" stroke="#3a5570" stroke-width="0.5"/><circle cx="301.8" cy="94.2" r="4.5" fill="#6e6e3a" fill-opacity="0.8" stroke="#444" stroke-width="0.5"/><circle cx="306.4" cy="96.5" r="4.2" fill="#8a8a55" fill-opacity="0.7" stroke="#444" stroke-width="0.5"/><circle cx="268.3" cy="104.5" r="1.5" fill="#6a7a8a" fill-opacity="0.9"/><circle cx="293.2" cy="128.8" r="6.3" fill="#37465a" fill-opacity="0.8" stroke="#333" stroke-width="0.5"/><circle cx="304.8" cy="129.2" r="7" fill="#545a34" fill-opacity="0.78" stroke="#333" stroke-width="0.5"/><circle cx="347.5" cy="135" r="1.4" fill="#333" fill-opacity="0.9"/></g>
<line x1="281.7" y1="25.6" x2="315" y2="25" stroke="#4a7aa5" stroke-width="0.45"/>
<line x1="313.5" y1="47.9" x2="317.3" y2="56.8" stroke="#333" stroke-width="0.45"/>
<line x1="318.6" y1="64.7" x2="326" y2="64" stroke="#555" stroke-width="0.45"/>
<line x1="322" y1="78" x2="331" y2="70" stroke="#2a4a6a" stroke-width="0.45"/>
<line x1="301" y1="97" x2="296" y2="101.5" stroke="#444" stroke-width="0.45"/>
<line x1="300" y1="93" x2="305" y2="99" stroke="#333" stroke-width="0.45"/>
<rect x="247" y="23.5" width="34.69999999999999" height="4.199999999999999" rx="0.8" fill="#fff" fill-opacity="0.92" stroke="#4a7aa5" stroke-width="0.5" stroke-opacity="1"/>
<text x="264.35" y="26.950000000000003" font-size="3.68" fill="#4a7aa5" fill-opacity="1" text-anchor="middle">Platelet aggregation</text>
<rect x="294.8" y="30" width="50.80000000000001" height="4.600000000000001" rx="0.8" fill="#fff" fill-opacity="0.92" stroke="#444" stroke-width="0.5" stroke-opacity="1"/>
<text x="320.20000000000005" y="33.65" font-size="3.67" fill="#222" fill-opacity="1" text-anchor="middle">Regulation of body fluid levels</text>
<rect x="281.3" y="46.2" width="32.19999999999999" height="3.6999999999999957" rx="0.8" fill="#fff" fill-opacity="0.92" stroke="#8f8a62" stroke-width="0.5" stroke-opacity="1"/>
<text x="297.4" y="49.4" font-size="3.62" fill="#333" fill-opacity="1" text-anchor="middle">Response to water</text>
<rect x="244.5" y="63.1" width="74.10000000000002" height="4.800000000000004" rx="0.8" fill="#fff" fill-opacity="0.92" stroke="#8a875a" stroke-width="0.5" stroke-opacity="1"/>
<text x="281.55" y="66.85" font-size="3.70" fill="#333" fill-opacity="1" text-anchor="middle">Regulation of ubiquitin-protein ligase activity</text>
<rect x="242.7" y="81.3" width="22.600000000000023" height="4.700000000000003" rx="0.8" fill="#fff" fill-opacity="0.92" stroke="#4a7aa5" stroke-width="0.5" stroke-opacity="1"/>
<text x="254.0" y="85.0" font-size="3.63" fill="#2a4a6a" fill-opacity="1" text-anchor="middle">Chondrocyte</text>
<rect x="266.7" y="81.5" width="78.90000000000003" height="4.5" rx="0.8" fill="#fff" fill-opacity="0.92" stroke="#666" stroke-width="0.5" stroke-opacity="1"/>
<text x="306.15" y="85.1" font-size="3.70" fill="#333" fill-opacity="1" text-anchor="middle">Positive regulation of epithelial cell proliferation</text>
<rect x="271.8" y="101" width="43.19999999999999" height="4.700000000000003" rx="0.8" fill="#fff" fill-opacity="0.92" stroke="#a39a62" stroke-width="0.5" stroke-opacity="1"/>
<text x="293.4" y="104.69999999999999" font-size="3.71" fill="#333" fill-opacity="1" text-anchor="middle">Regulation of ossification</text>
<rect x="241.8" y="134.3" width="75.39999999999998" height="5.099999999999994" rx="0.8" fill="#fff" fill-opacity="0.92" stroke="#555" stroke-width="0.5" stroke-opacity="1"/>
<text x="279.5" y="138.20000000000002" font-size="3.73" fill="#222" fill-opacity="1" text-anchor="middle">Regulation of biomineral tissue development</text>
<rect x="236.5" y="17.5" width="116.0" height="129.0" fill="none" stroke="#8e8e8e" stroke-width="1"/>
<line x1="257" y1="146.5" x2="257" y2="148.5" stroke="#555" stroke-width="0.6"/>
<text x="257" y="153.8" font-size="6.3" fill="#333" stroke="#333" stroke-width="0.06" text-anchor="middle" font-weight="normal" >−0.25</text>
<line x1="287" y1="146.5" x2="287" y2="148.5" stroke="#555" stroke-width="0.6"/>
<text x="287" y="153.8" font-size="6.3" fill="#333" stroke="#333" stroke-width="0.06" text-anchor="middle" font-weight="normal" >0.00</text>
<line x1="317" y1="146.5" x2="317" y2="148.5" stroke="#555" stroke-width="0.6"/>
<text x="317" y="153.8" font-size="6.3" fill="#333" stroke="#333" stroke-width="0.06" text-anchor="middle" font-weight="normal" >0.25</text>
<line x1="347" y1="146.5" x2="347" y2="148.5" stroke="#555" stroke-width="0.6"/>
<text x="347" y="153.8" font-size="6.3" fill="#333" stroke="#333" stroke-width="0.06" text-anchor="middle" font-weight="normal" >0.50</text>
<line x1="234.5" y1="20" x2="236.5" y2="20" stroke="#555" stroke-width="0.6"/>
<text x="233.7" y="22.2" font-size="6.3" fill="#333" stroke="#333" stroke-width="0.06" text-anchor="end" font-weight="normal" >0.50</text>
<line x1="234.5" y1="50" x2="236.5" y2="50" stroke="#555" stroke-width="0.6"/>
<text x="233.7" y="52.2" font-size="6.3" fill="#333" stroke="#333" stroke-width="0.06" text-anchor="end" font-weight="normal" >0.25</text>
<line x1="234.5" y1="80" x2="236.5" y2="80" stroke="#555" stroke-width="0.6"/>
<text x="233.7" y="82.2" font-size="6.3" fill="#333" stroke="#333" stroke-width="0.06" text-anchor="end" font-weight="normal" >0.00</text>
<line x1="234.5" y1="110" x2="236.5" y2="110" stroke="#555" stroke-width="0.6"/>
<text x="233.7" y="112.2" font-size="6.3" fill="#333" stroke="#333" stroke-width="0.06" text-anchor="end" font-weight="normal" >−0.25</text>
<line x1="234.5" y1="140" x2="236.5" y2="140" stroke="#555" stroke-width="0.6"/>
<text x="233.7" y="142.2" font-size="6.3" fill="#333" stroke="#333" stroke-width="0.06" text-anchor="end" font-weight="normal" >−0.50</text>
<text x="295.0" y="162.8" font-size="6.45" fill="#222" stroke="#222" stroke-width="0.06" text-anchor="middle" font-weight="normal" >Semantic component 1</text>
<text x="0" y="0" font-size="6.2" fill="#222" stroke="#222" stroke-width="0.1" text-anchor="middle" transform="translate(214.3,82.0) rotate(-90)">Semantic component 2</text>
<text x="238.3" y="13.3" font-size="6.5" fill="#222" stroke="#222" stroke-width="0.08">CRPC<tspan fill="#777" stroke="none"> | </tspan>WBC DMRs</text>
<rect x="371.5" y="17.5" width="147.0" height="129.0" fill="#fff"/>
<line x1="424.5" y1="17.5" x2="424.5" y2="146.5" stroke="#f4f4f4" stroke-width="0.4"/>
<line x1="460.5" y1="17.5" x2="460.5" y2="146.5" stroke="#f4f4f4" stroke-width="0.4"/>
<line x1="496.35" y1="17.5" x2="496.35" y2="146.5" stroke="#f4f4f4" stroke-width="0.4"/>
<line x1="371.5" y1="52.35" x2="518.5" y2="52.35" stroke="#f4f4f4" stroke-width="0.4"/>
<line x1="371.5" y1="81.0" x2="518.5" y2="81.0" stroke="#f4f4f4" stroke-width="0.4"/>
<line x1="371.5" y1="109.65" x2="518.5" y2="109.65" stroke="#f4f4f4" stroke-width="0.4"/>
<line x1="406.5" y1="17.5" x2="406.5" y2="146.5" stroke="#ececec" stroke-width="0.6"/>
<line x1="442.5" y1="17.5" x2="442.5" y2="146.5" stroke="#ececec" stroke-width="0.6"/>
<line x1="478.5" y1="17.5" x2="478.5" y2="146.5" stroke="#ececec" stroke-width="0.6"/>
<line x1="514.2" y1="17.5" x2="514.2" y2="146.5" stroke="#ececec" stroke-width="0.6"/>
<line x1="371.5" y1="38" x2="518.5" y2="38" stroke="#ececec" stroke-width="0.6"/>
<line x1="371.5" y1="66.7" x2="518.5" y2="66.7" stroke="#ececec" stroke-width="0.6"/>
<line x1="371.5" y1="95.3" x2="518.5" y2="95.3" stroke="#ececec" stroke-width="0.6"/>
<line x1="371.5" y1="124" x2="518.5" y2="124" stroke="#ececec" stroke-width="0.6"/>
<g clip-path="url(#cr)"><circle cx="472.4" cy="22.2" r="14.5" fill="#a88080" fill-opacity="0.5" stroke="#8a5a5a" stroke-width="0.5"/><circle cx="463.7" cy="21" r="12" fill="#8a4a4a" fill-opacity="0.45" stroke="#6a3a3a" stroke-width="0.5"/><circle cx="470" cy="21.5" r="9.5" fill="#4e1214" fill-opacity="0.8" stroke="#3a0a0a" stroke-width="0.5"/><circle cx="443.5" cy="35.2" r="8.5" fill="#a9d0f2" fill-opacity="0.8" stroke="#7ab0e0" stroke-width="0.5"/><circle cx="441" cy="33" r="5" fill="#cfe6fa" fill-opacity="0.6"/><circle cx="472.4" cy="38.7" r="1.2" fill="#222" fill-opacity="0.9"/><circle cx="394.5" cy="42.4" r="3.2" fill="#d49a95" fill-opacity="0.8"/><circle cx="452.2" cy="59.7" r="7.2" fill="#4a5a6a" fill-opacity="0.8" stroke="#2a3a4a" stroke-width="0.5"/><circle cx="466.6" cy="71.2" r="8" fill="#d68a84" fill-opacity="0.85" stroke="#b06a6a" stroke-width="0.5"/><circle cx="469.5" cy="65.5" r="3.5" fill="#2f6fa8" fill-opacity="0.9"/><circle cx="383" cy="74.1" r="2.3" fill="#333" fill-opacity="0.9"/><circle cx="383" cy="80" r="4.5" fill="#d68a84" fill-opacity="0.85" stroke="#b06a6a" stroke-width="0.5"/><circle cx="387.9" cy="91" r="4" fill="#4a5563" fill-opacity="0.85" stroke="#222" stroke-width="0.5"/><circle cx="388.2" cy="99.6" r="1" fill="#222" fill-opacity="0.9"/><circle cx="426.2" cy="93.9" r="1.2" fill="#3a7ab5" fill-opacity="0.9"/><circle cx="378.7" cy="114" r="7.5" fill="#3a4a5c" fill-opacity="0.6" stroke="#222" stroke-width="0.5"/><circle cx="374.3" cy="115" r="6" fill="#566270" fill-opacity="0.5"/><circle cx="381.5" cy="106.8" r="6" fill="#1e2a38" fill-opacity="0.75" stroke="#111" stroke-width="0.5"/><circle cx="385.9" cy="115.5" r="5" fill="#1e2a38" fill-opacity="0.6"/><circle cx="383" cy="104" r="3.5" fill="#101820" fill-opacity="0.85"/><circle cx="386.5" cy="108" r="3" fill="#152030" fill-opacity="0.85"/><circle cx="381" cy="110" r="4" fill="#101820" fill-opacity="0.8"/><circle cx="385" cy="114" r="3.5" fill="#1a2530" fill-opacity="0.8"/><circle cx="377" cy="114" r="9" fill="#5a6470" fill-opacity="0.35"/><circle cx="390.2" cy="108.3" r="3" fill="#7a8590" fill-opacity="0.7"/><circle cx="401.2" cy="109" r="5.5" fill="#6a747f" fill-opacity="0.7" stroke="#333" stroke-width="0.5"/><circle cx="501.2" cy="112.6" r="2.5" fill="#6a5a60" fill-opacity="0.7"/><circle cx="502.7" cy="117" r="3" fill="#6a5a60" fill-opacity="0.7"/><circle cx="507.9" cy="122.7" r="3.5" fill="#3a2a30" fill-opacity="0.8"/><circle cx="510.8" cy="124.7" r="3" fill="#2a1a20" fill-opacity="0.8"/><circle cx="461.7" cy="125.6" r="4" fill="#1a1a1a" fill-opacity="0.8"/><circle cx="464" cy="138.5" r="6.5" fill="#6a5a5e" fill-opacity="0.45" stroke="#333" stroke-width="0.5"/><circle cx="464" cy="129.5" r="4.5" fill="#2a1a1e" fill-opacity="0.75"/><circle cx="462.3" cy="130" r="5" fill="#3a3035" fill-opacity="0.7"/><circle cx="465.2" cy="135.7" r="5" fill="#6a6065" fill-opacity="0.6" stroke="#333" stroke-width="0.5"/><circle cx="468" cy="138.6" r="4" fill="#6a6065" fill-opacity="0.6" stroke="#333" stroke-width="0.5"/><circle cx="472.4" cy="139.1" r="3.5" fill="#7a7075" fill-opacity="0.6" stroke="#333" stroke-width="0.5"/></g>
<line x1="469.5" y1="65.5" x2="476.7" y2="55.4" stroke="#2f6fa8" stroke-width="0.45"/>
<line x1="383" y1="80" x2="388" y2="72.1" stroke="#444" stroke-width="0.45"/>
<line x1="466.6" y1="71.2" x2="476.7" y2="70" stroke="#333" stroke-width="0.45"/>
<line x1="439.2" y1="96.7" x2="446.4" y2="102.5" stroke="#333" stroke-width="0.45"/>
<line x1="385.9" y1="115.5" x2="391" y2="121.8" stroke="#222" stroke-width="0.45"/>
<line x1="461.7" y1="125.6" x2="470" y2="126.5" stroke="#222" stroke-width="0.45"/>
<rect x="403" y="32.3" width="27" height="4.900000000000006" rx="0.8" fill="#fff" fill-opacity="0.92" stroke="#a5c8ea" stroke-width="0.5" stroke-opacity="1"/>
<text x="416.5" y="36.1" font-size="4.10" fill="#a5c8ea" fill-opacity="1" text-anchor="middle">Actin filament</text>
<rect x="442" y="32.3" width="70.79999999999995" height="5.200000000000003" rx="0.8" fill="#fff" fill-opacity="0.92" stroke="#555" stroke-width="0.5" stroke-opacity="1"/>
<text x="477.4" y="36.25" font-size="3.87" fill="#222" fill-opacity="1" text-anchor="middle">Potassium ion transmembrane transport</text>
<rect x="378" y="43.8" width="78" height="4.900000000000006" rx="0.8" fill="#fff" fill-opacity="0.92" stroke="#3a6a95" stroke-width="0.5" stroke-opacity="1"/>
<text x="417.0" y="47.6" font-size="3.79" fill="#1a3a5a" fill-opacity="1" text-anchor="middle">Modulation of chemical synaptic transmission</text>
<rect x="441.2" y="50.2" width="70.80000000000001" height="5.199999999999996" rx="0.8" fill="#fff" fill-opacity="0.92" stroke="#5aa0d8" stroke-width="0.5" stroke-opacity="1"/>
<text x="476.6" y="54.15" font-size="3.75" fill="#2a6aa8" fill-opacity="1" text-anchor="middle">Cellular response to epinephrine stimulus</text>
<rect x="377.2" y="67.5" width="79.80000000000001" height="4.599999999999994" rx="0.8" fill="#fff" fill-opacity="0.92" stroke="#e4a4a4" stroke-width="0.5" stroke-opacity="1"/>
<text x="417.1" y="71.14999999999999" font-size="3.80" fill="#d06a6a" fill-opacity="1" text-anchor="middle">Ventricular cardiac muscle cell action potential</text>
<rect x="476.7" y="67.5" width="31.19999999999999" height="4.599999999999994" rx="0.8" fill="#fff" fill-opacity="0.92" stroke="#555" stroke-width="0.5" stroke-opacity="1"/>
<text x="492.29999999999995" y="71.14999999999999" font-size="3.67" fill="#222" fill-opacity="1" text-anchor="middle">Rhythmic process</text>
<line x1="469.5" y1="79" x2="469.5" y2="85.2" stroke="#e8a8a4" stroke-width="0.45"/>
<rect x="452.2" y="85.2" width="37.5" height="5.200000000000003" rx="0.8" fill="#fdf0ef" fill-opacity="0.92" stroke="#f4c4c0" stroke-width="0.5" stroke-opacity="1"/>
<text x="470.95" y="89.15" font-size="3.40" fill="#f2c2be" fill-opacity="1" text-anchor="middle">Regulation of heart rate</text>
<rect x="429.1" y="104" width="42.39999999999998" height="4.900000000000006" rx="0.8" fill="#fff" fill-opacity="0.92" stroke="#3a5a7a" stroke-width="0.5" stroke-opacity="1"/>
<text x="450.3" y="107.8" font-size="3.87" fill="#1a2a3a" fill-opacity="1" text-anchor="middle">Interleukin-4 production</text>
<rect x="378" y="121.8" width="33.80000000000001" height="4.700000000000003" rx="0.8" fill="#fff" fill-opacity="0.92" stroke="#444" stroke-width="0.5" stroke-opacity="1"/>
<text x="394.9" y="125.5" font-size="3.81" fill="#222" fill-opacity="1" text-anchor="middle">Muscle contraction</text>
<rect x="445.6" y="121.3" width="57.69999999999999" height="5.200000000000003" rx="0.8" fill="#fff" fill-opacity="0.92" stroke="#444" stroke-width="0.5" stroke-opacity="1"/>
<text x="474.45000000000005" y="125.25" font-size="3.79" fill="#222" fill-opacity="1" text-anchor="middle">Neuroepithelial cell differentiation</text>
<rect x="371.5" y="17.5" width="147.0" height="129.0" fill="none" stroke="#8e8e8e" stroke-width="1"/>
<line x1="406.5" y1="146.5" x2="406.5" y2="148.5" stroke="#555" stroke-width="0.6"/>
<text x="406.5" y="153.8" font-size="6.3" fill="#333" stroke="#333" stroke-width="0.06" text-anchor="middle" font-weight="normal" >−0.25</text>
<line x1="442.5" y1="146.5" x2="442.5" y2="148.5" stroke="#555" stroke-width="0.6"/>
<text x="442.5" y="153.8" font-size="6.3" fill="#333" stroke="#333" stroke-width="0.06" text-anchor="middle" font-weight="normal" >0.00</text>
<line x1="478.5" y1="146.5" x2="478.5" y2="148.5" stroke="#555" stroke-width="0.6"/>
<text x="478.5" y="153.8" font-size="6.3" fill="#333" stroke="#333" stroke-width="0.06" text-anchor="middle" font-weight="normal" >0.25</text>
<line x1="514.2" y1="146.5" x2="514.2" y2="148.5" stroke="#555" stroke-width="0.6"/>
<text x="514.2" y="153.8" font-size="6.3" fill="#333" stroke="#333" stroke-width="0.06" text-anchor="middle" font-weight="normal" >0.50</text>
<line x1="369.5" y1="38" x2="371.5" y2="38" stroke="#555" stroke-width="0.6"/>
<text x="368.7" y="40.2" font-size="6.3" fill="#333" stroke="#333" stroke-width="0.06" text-anchor="end" font-weight="normal" >0.4</text>
<line x1="369.5" y1="66.7" x2="371.5" y2="66.7" stroke="#555" stroke-width="0.6"/>
<text x="368.7" y="68.9" font-size="6.3" fill="#333" stroke="#333" stroke-width="0.06" text-anchor="end" font-weight="normal" >0.2</text>
<line x1="369.5" y1="95.3" x2="371.5" y2="95.3" stroke="#555" stroke-width="0.6"/>
<text x="368.7" y="97.5" font-size="6.3" fill="#333" stroke="#333" stroke-width="0.06" text-anchor="end" font-weight="normal" >0.0</text>
<line x1="369.5" y1="124" x2="371.5" y2="124" stroke="#555" stroke-width="0.6"/>
<text x="368.7" y="126.2" font-size="6.3" fill="#333" stroke="#333" stroke-width="0.06" text-anchor="end" font-weight="normal" >−0.2</text>
<text x="443.5" y="162.8" font-size="6.45" fill="#222" stroke="#222" stroke-width="0.06" text-anchor="middle" font-weight="normal" >Semantic component 1</text>
<text x="0" y="0" font-size="6.2" fill="#222" stroke="#222" stroke-width="0.1" text-anchor="middle" transform="translate(360,82.0) rotate(-90)"></text>
<text x="374.6" y="13.3" font-size="6.5" fill="#222" stroke="#222" stroke-width="0.08">CRPC−NE<tspan fill="#777" stroke="none"> | </tspan>CRPC−Adeno DMRs</text>
<rect x="262.5" y="210.5" width="249.0" height="168.0" fill="#fff"/>
<line x1="309.35" y1="210.5" x2="309.35" y2="378.5" stroke="#f4f4f4" stroke-width="0.4"/>
<line x1="381.0" y1="210.5" x2="381.0" y2="378.5" stroke="#f4f4f4" stroke-width="0.4"/>
<line x1="452.6" y1="210.5" x2="452.6" y2="378.5" stroke="#f4f4f4" stroke-width="0.4"/>
<line x1="262.5" y1="274.25" x2="511.5" y2="274.25" stroke="#f4f4f4" stroke-width="0.4"/>
<line x1="262.5" y1="322.75" x2="511.5" y2="322.75" stroke="#f4f4f4" stroke-width="0.4"/>
<line x1="262.5" y1="225.75" x2="511.5" y2="225.75" stroke="#f4f4f4" stroke-width="0.4"/>
<line x1="262.5" y1="371.25" x2="511.5" y2="371.25" stroke="#f4f4f4" stroke-width="0.4"/>
<line x1="273.5" y1="210.5" x2="273.5" y2="378.5" stroke="#ececec" stroke-width="0.6"/>
<line x1="345.2" y1="210.5" x2="345.2" y2="378.5" stroke="#ececec" stroke-width="0.6"/>
<line x1="416.8" y1="210.5" x2="416.8" y2="378.5" stroke="#ececec" stroke-width="0.6"/>
<line x1="488.4" y1="210.5" x2="488.4" y2="378.5" stroke="#ececec" stroke-width="0.6"/>
<line x1="262.5" y1="250" x2="511.5" y2="250" stroke="#ececec" stroke-width="0.6"/>
<line x1="262.5" y1="298.5" x2="511.5" y2="298.5" stroke="#ececec" stroke-width="0.6"/>
<line x1="262.5" y1="347" x2="511.5" y2="347" stroke="#ececec" stroke-width="0.6"/>
<polygon points="343.8,256.3 346,253 386,248.7 438,248 502.5,246.7 503.5,248 493.8,266 488,267 478.5,268.8 468.8,270.4 427.5,270.8 425.5,271.2 424.4,263.5 423.6,262.7 346,259.2" fill="#eef2e0" fill-opacity="1" stroke="#4a4a4a" stroke-width="0.9" stroke-linejoin="round"/>
<polygon points="461.3,211 466,211.5 467.7,213.7 485.6,215.6 487.9,217.7 484.4,220.6 474.6,224 460.2,237.9 458.5,238.3 455,235 453.3,226.9 452.7,224 453.8,222.9 452.1,221.2 455,216.5" fill="#dbe6f2" fill-opacity="1" stroke="#4a4a4a" stroke-width="0.9" stroke-linejoin="round"/>
<polygon points="261.8,294.2 278,293.5 281.1,291.5 284.9,291.2 288.8,293.5 307.2,295.8 310.3,293.5 328,308.1 329.1,311.9 325.7,313.5 308.8,314.2 294.9,315.8 290.3,318.8 286.5,318.1 284.2,315 278,312.7 261.8,297.3" fill="#bfe3f3" fill-opacity="1" stroke="#4a4a4a" stroke-width="0.9" stroke-linejoin="round"/>
<polygon points="449.7,348.1 451.9,346.5 467.3,346.5 502.2,357.6 503.5,361.2 500.8,362 465.9,362.6 449.7,350" fill="#fbd8b0" fill-opacity="1" stroke="#4a4a4a" stroke-width="0.9" stroke-linejoin="round"/>
<circle cx="351.4" cy="309.7" r="1.75" fill="#e0e0e0" fill-opacity="0.6" stroke="#858585" stroke-width="0.55"/>
<circle cx="362.1" cy="307.9" r="1.75" fill="#e0e0e0" fill-opacity="0.6" stroke="#858585" stroke-width="0.55"/>
<circle cx="373.5" cy="303.4" r="1.75" fill="#e0e0e0" fill-opacity="0.6" stroke="#858585" stroke-width="0.55"/>
<circle cx="377.3" cy="305.9" r="1.75" fill="#e0e0e0" fill-opacity="0.6" stroke="#858585" stroke-width="0.55"/>
<circle cx="381.9" cy="298.3" r="1.75" fill="#e0e0e0" fill-opacity="0.6" stroke="#858585" stroke-width="0.55"/>
<circle cx="388.7" cy="282" r="1.75" fill="#e0e0e0" fill-opacity="0.6" stroke="#858585" stroke-width="0.55"/>
<circle cx="382.5" cy="274.9" r="1.75" fill="#e0e0e0" fill-opacity="0.6" stroke="#858585" stroke-width="0.55"/>
<circle cx="385.2" cy="276.8" r="1.75" fill="#e0e0e0" fill-opacity="0.6" stroke="#858585" stroke-width="0.55"/>
<circle cx="387.9" cy="280.8" r="1.75" fill="#e0e0e0" fill-opacity="0.6" stroke="#858585" stroke-width="0.55"/>
<circle cx="391.9" cy="280.3" r="1.75" fill="#e0e0e0" fill-opacity="0.6" stroke="#858585" stroke-width="0.55"/>
<circle cx="394.6" cy="281.4" r="1.75" fill="#e0e0e0" fill-opacity="0.6" stroke="#858585" stroke-width="0.55"/>
<circle cx="410.8" cy="292.4" r="1.75" fill="#e0e0e0" fill-opacity="0.6" stroke="#858585" stroke-width="0.55"/>
<circle cx="381.2" cy="298.3" r="1.75" fill="#e0e0e0" fill-opacity="0.6" stroke="#858585" stroke-width="0.55"/>
<circle cx="374.4" cy="302.9" r="1.75" fill="#e0e0e0" fill-opacity="0.6" stroke="#858585" stroke-width="0.55"/>
<circle cx="377.1" cy="305.1" r="1.75" fill="#e0e0e0" fill-opacity="0.6" stroke="#858585" stroke-width="0.55"/>
<circle cx="362.3" cy="308.3" r="1.75" fill="#e0e0e0" fill-opacity="0.6" stroke="#858585" stroke-width="0.55"/>
<circle cx="400.5" cy="297" r="1.75" fill="#e0e0e0" fill-opacity="0.6" stroke="#858585" stroke-width="0.55"/>
<circle cx="401.4" cy="305.1" r="1.75" fill="#e0e0e0" fill-opacity="0.6" stroke="#858585" stroke-width="0.55"/>
<circle cx="408.1" cy="298.3" r="1.75" fill="#e0e0e0" fill-opacity="0.6" stroke="#858585" stroke-width="0.55"/>
<circle cx="416.2" cy="297" r="1.75" fill="#e0e0e0" fill-opacity="0.6" stroke="#858585" stroke-width="0.55"/>
<circle cx="420.2" cy="296.5" r="1.75" fill="#e0e0e0" fill-opacity="0.6" stroke="#858585" stroke-width="0.55"/>
<circle cx="424.2" cy="296.5" r="1.75" fill="#e0e0e0" fill-opacity="0.6" stroke="#858585" stroke-width="0.55"/>
<circle cx="426.9" cy="295.7" r="1.75" fill="#e0e0e0" fill-opacity="0.6" stroke="#858585" stroke-width="0.55"/>
<circle cx="386.4" cy="277.6" r="1.75" fill="#e0e0e0" fill-opacity="0.6" stroke="#858585" stroke-width="0.55"/>
<circle cx="389.2" cy="281.7" r="1.75" fill="#e0e0e0" fill-opacity="0.6" stroke="#858585" stroke-width="0.55"/>
<circle cx="393.4" cy="280.3" r="1.75" fill="#e0e0e0" fill-opacity="0.6" stroke="#858585" stroke-width="0.55"/>
<circle cx="400.3" cy="297.1" r="1.75" fill="#e0e0e0" fill-opacity="0.6" stroke="#858585" stroke-width="0.55"/>
<circle cx="401.7" cy="305.4" r="1.75" fill="#e0e0e0" fill-opacity="0.6" stroke="#858585" stroke-width="0.55"/>
<circle cx="411.5" cy="292.9" r="1.75" fill="#e0e0e0" fill-opacity="0.6" stroke="#858585" stroke-width="0.55"/>
<circle cx="421.3" cy="295.7" r="1.75" fill="#e0e0e0" fill-opacity="0.6" stroke="#858585" stroke-width="0.55"/>
<circle cx="425.4" cy="295.7" r="1.75" fill="#e0e0e0" fill-opacity="0.6" stroke="#858585" stroke-width="0.55"/>
<circle cx="428.2" cy="297.1" r="1.75" fill="#e0e0e0" fill-opacity="0.6" stroke="#858585" stroke-width="0.55"/>
<circle cx="407.3" cy="298.5" r="1.75" fill="#e0e0e0" fill-opacity="0.6" stroke="#858585" stroke-width="0.55"/>
<circle cx="415.7" cy="298.5" r="1.75" fill="#e0e0e0" fill-opacity="0.6" stroke="#858585" stroke-width="0.55"/>
<circle cx="431" cy="267.4" r="1.75" fill="#e0e0e0" fill-opacity="0.6" stroke="#858585" stroke-width="0.55"/>
<circle cx="435" cy="278.2" r="1.75" fill="#e0e0e0" fill-opacity="0.6" stroke="#858585" stroke-width="0.55"/>
<circle cx="437.7" cy="280.8" r="1.75" fill="#e0e0e0" fill-opacity="0.6" stroke="#858585" stroke-width="0.55"/>
<circle cx="445.8" cy="281.4" r="1.75" fill="#e0e0e0" fill-opacity="0.6" stroke="#858585" stroke-width="0.55"/>
<circle cx="449.8" cy="275.5" r="1.75" fill="#e0e0e0" fill-opacity="0.6" stroke="#858585" stroke-width="0.55"/>
<circle cx="443.1" cy="295.7" r="1.75" fill="#e0e0e0" fill-opacity="0.6" stroke="#858585" stroke-width="0.55"/>
<circle cx="448.5" cy="296.5" r="1.75" fill="#e0e0e0" fill-opacity="0.6" stroke="#858585" stroke-width="0.55"/>
<circle cx="452.5" cy="289" r="1.75" fill="#e0e0e0" fill-opacity="0.6" stroke="#858585" stroke-width="0.55"/>
<circle cx="445.8" cy="303.7" r="1.75" fill="#e0e0e0" fill-opacity="0.6" stroke="#858585" stroke-width="0.55"/>
<circle cx="451.2" cy="302.4" r="1.75" fill="#e0e0e0" fill-opacity="0.6" stroke="#858585" stroke-width="0.55"/>
<circle cx="456.5" cy="305.1" r="1.75" fill="#e0e0e0" fill-opacity="0.6" stroke="#858585" stroke-width="0.55"/>
<circle cx="500.8" cy="275.6" r="1.75" fill="#e0e0e0" fill-opacity="0.6" stroke="#858585" stroke-width="0.55"/>
<circle cx="496.6" cy="338.9" r="1.75" fill="#e0e0e0" fill-opacity="0.6" stroke="#858585" stroke-width="0.55"/>
<circle cx="498" cy="366" r="1.75" fill="#e0e0e0" fill-opacity="0.6" stroke="#858585" stroke-width="0.55"/>
<circle cx="477" cy="324.4" r="1.75" fill="#e0e0e0" fill-opacity="0.6" stroke="#858585" stroke-width="0.55"/>
<circle cx="430" cy="276" r="1.75" fill="#e0e0e0" fill-opacity="0.6" stroke="#858585" stroke-width="0.55"/>
<circle cx="433" cy="279" r="1.75" fill="#e0e0e0" fill-opacity="0.6" stroke="#858585" stroke-width="0.55"/>
<circle cx="441" cy="277" r="1.75" fill="#e0e0e0" fill-opacity="0.6" stroke="#858585" stroke-width="0.55"/>
<circle cx="447" cy="279.5" r="1.75" fill="#e0e0e0" fill-opacity="0.6" stroke="#858585" stroke-width="0.55"/>
<circle cx="452" cy="285" r="1.75" fill="#e0e0e0" fill-opacity="0.6" stroke="#858585" stroke-width="0.55"/>
<circle cx="456" cy="287" r="1.75" fill="#e0e0e0" fill-opacity="0.6" stroke="#858585" stroke-width="0.55"/>
<circle cx="461" cy="291" r="1.75" fill="#e0e0e0" fill-opacity="0.6" stroke="#858585" stroke-width="0.55"/>
<circle cx="466" cy="283" r="1.75" fill="#e0e0e0" fill-opacity="0.6" stroke="#858585" stroke-width="0.55"/>
<circle cx="470" cy="288" r="1.75" fill="#e0e0e0" fill-opacity="0.6" stroke="#858585" stroke-width="0.55"/>
<circle cx="475" cy="292" r="1.75" fill="#e0e0e0" fill-opacity="0.6" stroke="#858585" stroke-width="0.55"/>
<circle cx="500" cy="275.5" r="1.75" fill="#e0e0e0" fill-opacity="0.6" stroke="#858585" stroke-width="0.55"/>
<circle cx="453.9" cy="280.8" r="1.75" fill="#d9c7b4" fill-opacity="0.6" stroke="#a38768" stroke-width="0.55"/>
<circle cx="459.2" cy="278.2" r="1.75" fill="#d9c7b4" fill-opacity="0.6" stroke="#a38768" stroke-width="0.55"/>
<circle cx="463.3" cy="280.8" r="1.75" fill="#d9c7b4" fill-opacity="0.6" stroke="#a38768" stroke-width="0.55"/>
<circle cx="467.3" cy="275.5" r="1.75" fill="#d9c7b4" fill-opacity="0.6" stroke="#a38768" stroke-width="0.55"/>
<circle cx="456.5" cy="293" r="1.75" fill="#d9c7b4" fill-opacity="0.6" stroke="#a38768" stroke-width="0.55"/>
<circle cx="461.9" cy="294.3" r="1.75" fill="#d9c7b4" fill-opacity="0.6" stroke="#a38768" stroke-width="0.55"/>
<circle cx="464.6" cy="297" r="1.75" fill="#d9c7b4" fill-opacity="0.6" stroke="#a38768" stroke-width="0.55"/>
<circle cx="461.9" cy="302.4" r="1.75" fill="#d9c7b4" fill-opacity="0.6" stroke="#a38768" stroke-width="0.55"/>
<circle cx="466" cy="305.1" r="1.75" fill="#d9c7b4" fill-opacity="0.6" stroke="#a38768" stroke-width="0.55"/>
<circle cx="468.7" cy="299.7" r="1.75" fill="#d9c7b4" fill-opacity="0.6" stroke="#a38768" stroke-width="0.55"/>
<circle cx="474.3" cy="281.7" r="1.75" fill="#d9c7b4" fill-opacity="0.6" stroke="#a38768" stroke-width="0.55"/>
<circle cx="478.4" cy="295.7" r="1.75" fill="#d9c7b4" fill-opacity="0.6" stroke="#a38768" stroke-width="0.55"/>
<circle cx="482.6" cy="297.1" r="1.75" fill="#d9c7b4" fill-opacity="0.6" stroke="#a38768" stroke-width="0.55"/>
<circle cx="488.2" cy="297.9" r="1.75" fill="#d9c7b4" fill-opacity="0.6" stroke="#a38768" stroke-width="0.55"/>
<circle cx="481.2" cy="304" r="1.75" fill="#d9c7b4" fill-opacity="0.6" stroke="#a38768" stroke-width="0.55"/>
<circle cx="489.6" cy="308.2" r="1.75" fill="#d9c7b4" fill-opacity="0.6" stroke="#a38768" stroke-width="0.55"/>
<circle cx="458" cy="271" r="1.75" fill="#d9c7b4" fill-opacity="0.6" stroke="#a38768" stroke-width="0.55"/>
<circle cx="462" cy="273" r="1.75" fill="#d9c7b4" fill-opacity="0.6" stroke="#a38768" stroke-width="0.55"/>
<circle cx="466" cy="276" r="1.75" fill="#d9c7b4" fill-opacity="0.6" stroke="#a38768" stroke-width="0.55"/>
<circle cx="470" cy="272" r="1.75" fill="#d9c7b4" fill-opacity="0.6" stroke="#a38768" stroke-width="0.55"/>
<circle cx="474" cy="276" r="1.75" fill="#d9c7b4" fill-opacity="0.6" stroke="#a38768" stroke-width="0.55"/>
<circle cx="478" cy="273" r="1.75" fill="#d9c7b4" fill-opacity="0.6" stroke="#a38768" stroke-width="0.55"/>
<circle cx="482" cy="275" r="1.75" fill="#d9c7b4" fill-opacity="0.6" stroke="#a38768" stroke-width="0.55"/>
<circle cx="485" cy="279" r="1.75" fill="#d9c7b4" fill-opacity="0.6" stroke="#a38768" stroke-width="0.55"/>
<circle cx="471" cy="284" r="1.75" fill="#d9c7b4" fill-opacity="0.6" stroke="#a38768" stroke-width="0.55"/>
<circle cx="459" cy="285" r="1.75" fill="#d9c7b4" fill-opacity="0.6" stroke="#a38768" stroke-width="0.55"/>
<circle cx="462" cy="288" r="1.75" fill="#d9c7b4" fill-opacity="0.6" stroke="#a38768" stroke-width="0.55"/>
<circle cx="484" cy="338.9" r="1.75" fill="#d9c7b4" fill-opacity="0.6" stroke="#a38768" stroke-width="0.55"/>
<circle cx="488.2" cy="336.1" r="1.75" fill="#d9c7b4" fill-opacity="0.6" stroke="#a38768" stroke-width="0.55"/>
<circle cx="489.6" cy="338.9" r="1.75" fill="#d9c7b4" fill-opacity="0.6" stroke="#a38768" stroke-width="0.55"/>
<circle cx="422.7" cy="334.2" r="1.75" fill="#d9c7b4" fill-opacity="0.6" stroke="#a38768" stroke-width="0.55"/>
<circle cx="426.8" cy="334.2" r="1.75" fill="#d9c7b4" fill-opacity="0.6" stroke="#a38768" stroke-width="0.55"/>
<circle cx="419.9" cy="341.7" r="1.75" fill="#d9c7b4" fill-opacity="0.6" stroke="#a38768" stroke-width="0.55"/>
<circle cx="422.7" cy="344.5" r="1.75" fill="#d9c7b4" fill-opacity="0.6" stroke="#a38768" stroke-width="0.55"/>
<circle cx="477" cy="362.6" r="1.75" fill="#d9c7b4" fill-opacity="0.6" stroke="#a38768" stroke-width="0.55"/>
<circle cx="481.2" cy="365.4" r="1.75" fill="#d9c7b4" fill-opacity="0.6" stroke="#a38768" stroke-width="0.55"/>
<circle cx="484" cy="366.8" r="1.75" fill="#d9c7b4" fill-opacity="0.6" stroke="#a38768" stroke-width="0.55"/>
<circle cx="482.6" cy="371" r="1.75" fill="#d9c7b4" fill-opacity="0.6" stroke="#a38768" stroke-width="0.55"/>
<circle cx="486" cy="369" r="1.75" fill="#d9c7b4" fill-opacity="0.6" stroke="#a38768" stroke-width="0.55"/>
<circle cx="479" cy="368" r="1.75" fill="#d9c7b4" fill-opacity="0.6" stroke="#a38768" stroke-width="0.55"/>
<circle cx="461.7" cy="352.9" r="1.75" fill="#f0c08a" fill-opacity="0.6" stroke="#b07a40" stroke-width="0.55"/>
<circle cx="465.9" cy="355.7" r="1.75" fill="#f0c08a" fill-opacity="0.6" stroke="#b07a40" stroke-width="0.55"/>
<circle cx="468.1" cy="352.9" r="1.75" fill="#f0c08a" fill-opacity="0.6" stroke="#b07a40" stroke-width="0.55"/>
<circle cx="482.6" cy="353.7" r="1.75" fill="#f0c08a" fill-opacity="0.6" stroke="#b07a40" stroke-width="0.55"/>
<circle cx="481.2" cy="356.5" r="1.75" fill="#f0c08a" fill-opacity="0.6" stroke="#b07a40" stroke-width="0.55"/>
<circle cx="484" cy="355.7" r="1.75" fill="#f0c08a" fill-opacity="0.6" stroke="#b07a40" stroke-width="0.55"/>
<circle cx="489.6" cy="355.7" r="1.75" fill="#f0c08a" fill-opacity="0.6" stroke="#b07a40" stroke-width="0.55"/>
<circle cx="486" cy="351" r="1.75" fill="#f0c08a" fill-opacity="0.6" stroke="#b07a40" stroke-width="0.55"/>
<circle cx="472" cy="357" r="1.75" fill="#f0c08a" fill-opacity="0.6" stroke="#b07a40" stroke-width="0.55"/>
<circle cx="378.4" cy="255" r="1.75" fill="#eef2e0" fill-opacity="0.6" stroke="#9a9f88" stroke-width="0.55"/>
<circle cx="387" cy="254.4" r="1.75" fill="#eef2e0" fill-opacity="0.6" stroke="#9a9f88" stroke-width="0.55"/>
<circle cx="394.7" cy="255" r="1.75" fill="#eef2e0" fill-opacity="0.6" stroke="#9a9f88" stroke-width="0.55"/>
<circle cx="398.6" cy="254.4" r="1.75" fill="#eef2e0" fill-opacity="0.6" stroke="#9a9f88" stroke-width="0.55"/>
<circle cx="430" cy="257" r="1.75" fill="#eef2e0" fill-opacity="0.6" stroke="#9a9f88" stroke-width="0.55"/>
<circle cx="431.3" cy="268.5" r="1.75" fill="#eef2e0" fill-opacity="0.6" stroke="#9a9f88" stroke-width="0.55"/>
<circle cx="457.5" cy="262" r="1.75" fill="#eef2e0" fill-opacity="0.6" stroke="#9a9f88" stroke-width="0.55"/>
<circle cx="461.25" cy="264.5" r="1.75" fill="#eef2e0" fill-opacity="0.6" stroke="#9a9f88" stroke-width="0.55"/>
<circle cx="476.25" cy="263.75" r="1.75" fill="#eef2e0" fill-opacity="0.6" stroke="#9a9f88" stroke-width="0.55"/>
<circle cx="485" cy="259.5" r="1.75" fill="#eef2e0" fill-opacity="0.6" stroke="#9a9f88" stroke-width="0.55"/>
<circle cx="490" cy="260.5" r="1.75" fill="#eef2e0" fill-opacity="0.6" stroke="#9a9f88" stroke-width="0.55"/>
<circle cx="495" cy="252" r="1.75" fill="#eef2e0" fill-opacity="0.6" stroke="#9a9f88" stroke-width="0.55"/>
<circle cx="459" cy="220" r="1.75" fill="#c8d8ea" fill-opacity="0.6" stroke="#6a86a8" stroke-width="0.55"/>
<circle cx="460.8" cy="218.8" r="1.75" fill="#c8d8ea" fill-opacity="0.6" stroke="#6a86a8" stroke-width="0.55"/>
<circle cx="463" cy="219.4" r="1.75" fill="#c8d8ea" fill-opacity="0.6" stroke="#6a86a8" stroke-width="0.55"/>
<circle cx="461.9" cy="221.2" r="1.75" fill="#c8d8ea" fill-opacity="0.6" stroke="#6a86a8" stroke-width="0.55"/>
<circle cx="469.4" cy="221.2" r="1.75" fill="#c8d8ea" fill-opacity="0.6" stroke="#6a86a8" stroke-width="0.55"/>
<circle cx="460.2" cy="225.8" r="1.75" fill="#c8d8ea" fill-opacity="0.6" stroke="#6a86a8" stroke-width="0.55"/>
<circle cx="459" cy="229.2" r="1.75" fill="#c8d8ea" fill-opacity="0.6" stroke="#6a86a8" stroke-width="0.55"/>
<circle cx="460.8" cy="227.5" r="1.75" fill="#c8d8ea" fill-opacity="0.6" stroke="#6a86a8" stroke-width="0.55"/>
<circle cx="463" cy="217.5" r="1.75" fill="#c8d8ea" fill-opacity="0.6" stroke="#6a86a8" stroke-width="0.55"/>
<circle cx="273.7" cy="299.8" r="1.75" fill="#78bedd" fill-opacity="0.6" stroke="#2f85ad" stroke-width="0.55"/>
<circle cx="282.1" cy="296.5" r="1.75" fill="#78bedd" fill-opacity="0.6" stroke="#2f85ad" stroke-width="0.55"/>
<circle cx="283.4" cy="299" r="1.75" fill="#78bedd" fill-opacity="0.6" stroke="#2f85ad" stroke-width="0.55"/>
<circle cx="284.6" cy="301.6" r="1.75" fill="#78bedd" fill-opacity="0.6" stroke="#2f85ad" stroke-width="0.55"/>
<circle cx="282.1" cy="304.1" r="1.75" fill="#78bedd" fill-opacity="0.6" stroke="#2f85ad" stroke-width="0.55"/>
<circle cx="288.5" cy="298.3" r="1.75" fill="#78bedd" fill-opacity="0.6" stroke="#2f85ad" stroke-width="0.55"/>
<circle cx="292.3" cy="301.6" r="1.75" fill="#78bedd" fill-opacity="0.6" stroke="#2f85ad" stroke-width="0.55"/>
<circle cx="296.1" cy="301.6" r="1.75" fill="#78bedd" fill-opacity="0.6" stroke="#2f85ad" stroke-width="0.55"/>
<circle cx="298.6" cy="300.3" r="1.75" fill="#78bedd" fill-opacity="0.6" stroke="#2f85ad" stroke-width="0.55"/>
<circle cx="302.4" cy="302.8" r="1.75" fill="#78bedd" fill-opacity="0.6" stroke="#2f85ad" stroke-width="0.55"/>
<circle cx="305" cy="305.4" r="1.75" fill="#78bedd" fill-opacity="0.6" stroke="#2f85ad" stroke-width="0.55"/>
<circle cx="310" cy="300.3" r="1.75" fill="#78bedd" fill-opacity="0.6" stroke="#2f85ad" stroke-width="0.55"/>
<circle cx="317.6" cy="306.6" r="1.75" fill="#78bedd" fill-opacity="0.6" stroke="#2f85ad" stroke-width="0.55"/>
<circle cx="283.4" cy="308.4" r="1.75" fill="#78bedd" fill-opacity="0.6" stroke="#2f85ad" stroke-width="0.55"/>
<circle cx="287.2" cy="309.2" r="1.75" fill="#78bedd" fill-opacity="0.6" stroke="#2f85ad" stroke-width="0.55"/>
<circle cx="291" cy="310.5" r="1.75" fill="#78bedd" fill-opacity="0.6" stroke="#2f85ad" stroke-width="0.55"/>
<circle cx="293.5" cy="307.9" r="1.75" fill="#78bedd" fill-opacity="0.6" stroke="#2f85ad" stroke-width="0.55"/>
<circle cx="298.6" cy="309.9" r="1.75" fill="#78bedd" fill-opacity="0.6" stroke="#2f85ad" stroke-width="0.55"/>
<circle cx="301.1" cy="304.1" r="1.75" fill="#78bedd" fill-opacity="0.6" stroke="#2f85ad" stroke-width="0.55"/>
<circle cx="294" cy="302.5" r="1.75" fill="#78bedd" fill-opacity="0.6" stroke="#2f85ad" stroke-width="0.55"/>
<circle cx="300" cy="302" r="1.75" fill="#78bedd" fill-opacity="0.6" stroke="#2f85ad" stroke-width="0.55"/>
<circle cx="304" cy="300.5" r="1.75" fill="#78bedd" fill-opacity="0.6" stroke="#2f85ad" stroke-width="0.55"/>
<circle cx="286" cy="303" r="1.75" fill="#78bedd" fill-opacity="0.6" stroke="#2f85ad" stroke-width="0.55"/>
<circle cx="290" cy="305" r="1.75" fill="#78bedd" fill-opacity="0.6" stroke="#2f85ad" stroke-width="0.55"/>
<path d="M297.5,268.5 L311.2,268.5 L313.6,266.6 M309.8,268.5 L309.8,294.5" fill="none" stroke="#4a4a4a" stroke-width="0.75"/>
<path d="M371,221.3 L452.3,221.3" fill="none" stroke="#4a4a4a" stroke-width="0.75"/>
<path d="M397.5,299.8 L440,299.8 L440,272.8" fill="none" stroke="#4a4a4a" stroke-width="0.75"/>
<path d="M457,346.5 L457,321.3 L506.3,321.3" fill="none" stroke="#4a4a4a" stroke-width="0.75"/>
<text x="305.4" y="264.8" font-size="7.3" fill="#222" stroke="#222" stroke-width="0.1" text-anchor="middle" font-weight="normal" >WBC</text>
<text x="398.4" y="218.8" font-size="7.5" fill="#222" stroke="#222" stroke-width="0.1" text-anchor="middle" font-weight="normal" >Pancreatic endocrine</text>
<text x="423" y="307.6" font-size="7.5" fill="#222" stroke="#222" stroke-width="0.1" text-anchor="middle" font-weight="normal" >Neural</text>
<text x="423" y="315.8" font-size="7.5" fill="#222" stroke="#222" stroke-width="0.1" text-anchor="middle" font-weight="normal" >lineage</text>
<text x="479.4" y="318.5" font-size="7.5" fill="#222" stroke="#222" stroke-width="0.1" text-anchor="middle" font-weight="normal" >Postate epithelial</text>
<rect x="262.5" y="210.5" width="249.0" height="168.0" fill="none" stroke="#8e8e8e" stroke-width="1"/>
<line x1="273.5" y1="378.5" x2="273.5" y2="380.5" stroke="#555" stroke-width="0.6"/>
<text x="273.5" y="388.5" font-size="7.0" fill="#333" stroke="#333" stroke-width="0.1" text-anchor="middle" font-weight="normal" >−10</text>
<line x1="345.2" y1="378.5" x2="345.2" y2="380.5" stroke="#555" stroke-width="0.6"/>
<text x="345.2" y="388.5" font-size="7.0" fill="#333" stroke="#333" stroke-width="0.1" text-anchor="middle" font-weight="normal" >−5</text>
<line x1="416.8" y1="378.5" x2="416.8" y2="380.5" stroke="#555" stroke-width="0.6"/>
<text x="416.8" y="388.5" font-size="7.0" fill="#333" stroke="#333" stroke-width="0.1" text-anchor="middle" font-weight="normal" >0</text>
<line x1="488.4" y1="378.5" x2="488.4" y2="380.5" stroke="#555" stroke-width="0.6"/>
<text x="488.4" y="388.5" font-size="7.0" fill="#333" stroke="#333" stroke-width="0.1" text-anchor="middle" font-weight="normal" >5</text>
<line x1="260.5" y1="250" x2="262.5" y2="250" stroke="#555" stroke-width="0.6"/>
<text x="259.7" y="252.5" font-size="7.0" fill="#333" stroke="#333" stroke-width="0.1" text-anchor="end" font-weight="normal" >5</text>
<line x1="260.5" y1="298.5" x2="262.5" y2="298.5" stroke="#555" stroke-width="0.6"/>
<text x="259.7" y="301.0" font-size="7.0" fill="#333" stroke="#333" stroke-width="0.1" text-anchor="end" font-weight="normal" >0</text>
<line x1="260.5" y1="347" x2="262.5" y2="347" stroke="#555" stroke-width="0.6"/>
<text x="259.7" y="349.5" font-size="7.0" fill="#333" stroke="#333" stroke-width="0.1" text-anchor="end" font-weight="normal" >−5</text>
<text x="386.6" y="401.8" font-size="7.6" fill="#222" stroke="#222" stroke-width="0.1" text-anchor="middle" font-weight="normal" >Multidimensional scaling 1</text>
<text x="0" y="0" font-size="7.6" fill="#222" stroke="#222" stroke-width="0.1" text-anchor="middle" transform="translate(248.7,299.2) rotate(-90)">Multidimensional scaling 2</text>
<text x="384.9" y="206.7" font-size="7.6" fill="#222" stroke="#222" stroke-width="0.1" text-anchor="middle" font-weight="normal" >Healthy cell types masked with NEMO design</text>
<text x="0.8" y="180.2" font-size="10.4" fill="#000" stroke="#000" stroke-width="0.1" text-anchor="start" font-weight="bold" >B</text>
<text x="212.3" y="9.5" font-size="10.4" fill="#000" stroke="#000" stroke-width="0.1" text-anchor="start" font-weight="bold" >C</text>
<text x="243.4" y="180.3" font-size="10.4" fill="#000" stroke="#000" stroke-width="0.1" text-anchor="start" font-weight="bold" >D</text>
</svg>
</body></html>
